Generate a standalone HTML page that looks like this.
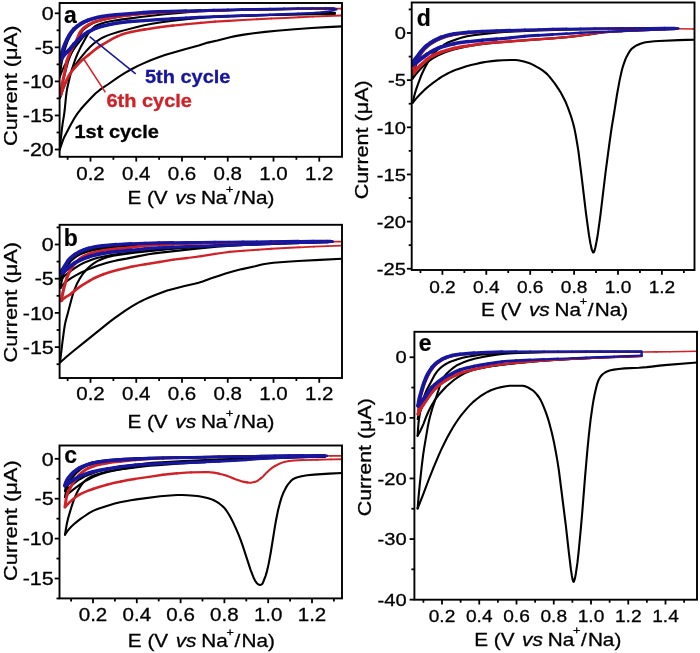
<!DOCTYPE html>
<html><head><meta charset="utf-8"><title>CV cycles</title>
<style>html,body{margin:0;padding:0;background:#fff}svg{display:block}</style></head>
<body><svg width="700" height="653" viewBox="0 0 700 653">
<defs><filter id="soft" x="0" y="0" width="100%" height="100%" filterUnits="userSpaceOnUse"><feGaussianBlur stdDeviation="0.45"/></filter></defs>
<rect width="700" height="653" fill="#fff"/>
<g filter="url(#soft)">
<g id="panel-a">
<clipPath id="ca"><rect x="59.60" y="3.00" width="282.40" height="153.80"/></clipPath>
<g clip-path="url(#ca)">
<path d="M59.7 149.7 L62.0 142.8 L63.0 140.1 L64.2 137.2 L66.0 133.7 L70.7 124.7 L74.5 118.0 L77.2 113.9 L80.7 109.3 L84.7 104.7 L91.5 97.5 L95.7 93.3 L99.5 90.2 L102.2 88.2 L108.5 84.0 L118.7 76.8 L125.0 72.9 L130.9 69.5 L137.4 66.1 L143.4 63.4 L150.7 60.3 L157.9 57.6 L164.9 55.1 L172.7 52.7 L184.9 49.2 L198.7 45.6 L207.9 42.6 L217.4 40.5 L230.2 37.2 L235.2 36.1 L243.9 34.6 L253.7 33.3 L265.2 31.9 L276.7 30.8 L294.7 29.3 L311.7 28.0 L326.7 27.1 L342.0 26.4" fill="none" stroke="#000000" stroke-width="2.10" stroke-linejoin="round" stroke-linecap="round"/>
<path d="M59.7 149.7 L61.0 137.1 L62.0 128.4 L62.7 123.1 L64.2 113.8 L64.7 110.0 L66.0 96.6 L66.5 92.6 L67.2 88.3 L69.0 80.5 L70.2 75.5 L71.7 70.1 L73.0 66.1 L74.7 61.0 L76.2 57.0 L77.5 53.9 L80.7 47.1 L86.0 37.4 L88.2 33.7 L89.7 31.7 L91.2 29.9 L93.0 28.0 L94.2 26.9 L95.0 26.3 L96.5 25.5 L98.2 24.7 L100.7 23.8 L103.2 23.0 L105.7 22.3 L113.2 20.8 L122.5 19.4 L140.7 17.0 L164.4 14.3 L176.4 13.1 L193.7 11.8 L203.4 11.2 L214.9 10.7 L231.9 10.1 L248.9 9.7 L298.2 8.9 L335.0 8.7" fill="none" stroke="#000000" stroke-width="2.10" stroke-linejoin="round" stroke-linecap="round"/>
<path d="M60.0 98.0 L62.8 90.2 L65.2 84.0 L68.2 77.5 L71.5 71.4 L74.8 65.9 L78.0 61.1 L81.8 56.3 L87.0 50.2 L90.0 47.0 L93.8 43.5 L97.0 41.1 L100.8 38.7 L104.0 37.0 L107.2 35.6 L110.5 34.4 L118.8 31.8 L124.8 30.1 L136.0 27.2 L144.2 25.3 L152.0 23.8 L161.5 22.2 L170.8 20.9 L179.5 19.9 L191.2 18.8 L206.2 17.6 L228.0 16.6 L278.5 14.7 L335.0 12.7" fill="none" stroke="#000000" stroke-width="2.00" stroke-linejoin="round" stroke-linecap="round"/>
<path d="M60.0 98.0 L61.8 87.9 L63.2 80.4 L65.8 70.0 L67.8 62.8 L69.2 58.5 L71.2 53.6 L72.8 50.4 L77.8 40.5 L80.5 33.9 L81.8 31.9 L83.2 30.0 L84.8 28.5 L86.8 26.9 L89.2 25.3 L92.0 23.7 L95.0 22.4 L98.0 21.3 L102.8 20.0 L109.8 18.4 L116.2 17.2 L123.5 16.0 L134.0 14.8 L143.5 13.8 L151.2 13.2 L161.0 12.6 L175.5 11.9 L192.5 11.3 L222.8 10.3 L245.5 9.7 L262.0 9.4 L294.2 9.0 L335.0 8.7" fill="none" stroke="#000000" stroke-width="2.00" stroke-linejoin="round" stroke-linecap="round"/>
<path d="M59.8 77.0 L62.0 71.2 L64.0 66.7 L68.3 58.5 L71.0 53.6 L73.3 50.0 L76.0 46.1 L80.3 40.6 L82.8 37.6 L84.8 35.7 L87.8 33.3 L90.8 31.2 L93.5 29.7 L96.3 28.5 L99.3 27.4 L103.0 26.3 L107.5 25.2 L113.0 24.1 L120.3 22.8 L124.3 22.3 L130.3 21.7 L139.3 21.0 L173.3 18.8 L196.8 17.5 L230.6 16.0 L256.6 15.2 L302.1 14.4 L335.0 14.1" fill="none" stroke="#000000" stroke-width="2.00" stroke-linejoin="round" stroke-linecap="round"/>
<path d="M59.8 77.0 L60.8 68.7 L61.5 63.7 L62.8 57.4 L64.0 52.3 L65.8 46.5 L67.5 41.7 L69.3 37.8 L71.3 34.3 L73.3 31.4 L75.0 29.5 L78.3 26.6 L81.5 24.2 L84.5 22.5 L88.3 20.8 L92.3 19.4 L96.5 18.2 L100.5 17.3 L104.8 16.5 L110.0 15.8 L115.0 15.2 L145.3 12.7 L151.6 12.3 L159.3 12.0 L182.1 11.2 L252.8 9.5 L299.3 8.9 L335.0 8.7" fill="none" stroke="#000000" stroke-width="2.00" stroke-linejoin="round" stroke-linecap="round"/>
<path d="M60.9 94.7 L62.6 89.5 L64.2 85.4 L65.4 82.5 L67.2 78.8 L68.9 75.6 L70.9 72.5 L72.7 70.1 L74.9 67.5" fill="none" stroke="#d02228" stroke-width="2.87" stroke-linejoin="round" stroke-linecap="round"/><path d="M74.9 67.5 L78.9 63.2 L81.4 60.8 L83.4 59.0 L88.9 54.7" fill="none" stroke="#d02228" stroke-width="2.81" stroke-linejoin="round" stroke-linecap="round"/><path d="M88.9 54.7 L93.9 50.5 L96.7 48.4 L99.4 46.5 L102.9 44.4" fill="none" stroke="#d02228" stroke-width="2.76" stroke-linejoin="round" stroke-linecap="round"/><path d="M102.9 44.4 L111.9 39.1 L114.2 37.9 L116.9 36.6" fill="none" stroke="#d02228" stroke-width="2.70" stroke-linejoin="round" stroke-linecap="round"/><path d="M116.9 36.6 L120.4 35.1 L123.4 34.0 L126.7 33.1 L130.9 32.0" fill="none" stroke="#d02228" stroke-width="2.64" stroke-linejoin="round" stroke-linecap="round"/><path d="M130.9 32.0 L137.4 30.7 L144.9 29.4" fill="none" stroke="#d02228" stroke-width="2.59" stroke-linejoin="round" stroke-linecap="round"/><path d="M144.9 29.4 L158.9 27.3" fill="none" stroke="#d02228" stroke-width="2.53" stroke-linejoin="round" stroke-linecap="round"/><path d="M158.9 27.3 L172.9 25.6" fill="none" stroke="#d02228" stroke-width="2.48" stroke-linejoin="round" stroke-linecap="round"/><path d="M172.9 25.6 L186.9 24.1" fill="none" stroke="#d02228" stroke-width="2.42" stroke-linejoin="round" stroke-linecap="round"/><path d="M186.9 24.1 L200.9 22.8" fill="none" stroke="#d02228" stroke-width="2.36" stroke-linejoin="round" stroke-linecap="round"/><path d="M200.9 22.8 L214.9 21.7" fill="none" stroke="#d02228" stroke-width="2.31" stroke-linejoin="round" stroke-linecap="round"/><path d="M214.9 21.7 L228.9 20.8" fill="none" stroke="#d02228" stroke-width="2.25" stroke-linejoin="round" stroke-linecap="round"/><path d="M228.9 20.8 L242.9 20.0" fill="none" stroke="#d02228" stroke-width="2.20" stroke-linejoin="round" stroke-linecap="round"/><path d="M242.9 20.0 L257.1 19.3" fill="none" stroke="#d02228" stroke-width="2.14" stroke-linejoin="round" stroke-linecap="round"/><path d="M257.1 19.3 L271.1 18.5" fill="none" stroke="#d02228" stroke-width="2.08" stroke-linejoin="round" stroke-linecap="round"/><path d="M271.1 18.5 L285.1 17.9" fill="none" stroke="#d02228" stroke-width="2.03" stroke-linejoin="round" stroke-linecap="round"/><path d="M285.1 17.9 L299.1 17.2" fill="none" stroke="#d02228" stroke-width="1.97" stroke-linejoin="round" stroke-linecap="round"/><path d="M299.1 17.2 L313.1 16.6" fill="none" stroke="#d02228" stroke-width="1.92" stroke-linejoin="round" stroke-linecap="round"/><path d="M313.1 16.6 L327.1 16.0" fill="none" stroke="#d02228" stroke-width="1.86" stroke-linejoin="round" stroke-linecap="round"/><path d="M327.1 16.0 L341.1 15.5" fill="none" stroke="#d02228" stroke-width="1.80" stroke-linejoin="round" stroke-linecap="round"/><path d="M341.1 15.5 L342.0 15.5" fill="none" stroke="#d02228" stroke-width="1.80" stroke-linejoin="round" stroke-linecap="round"/>
<path d="M60.9 94.7 L61.9 86.8 L62.6 82.0 L64.7 72.4 L66.2 64.4 L66.9 61.1 L68.2 57.3 L70.4 52.0 L72.7 47.4 L74.9 43.4" fill="none" stroke="#d02228" stroke-width="3.15" stroke-linejoin="round" stroke-linecap="round"/><path d="M74.9 43.4 L76.7 40.2 L79.4 33.6 L79.9 32.7 L80.9 31.2 L82.4 29.4 L84.2 27.7 L86.4 26.0 L88.9 24.5" fill="none" stroke="#d02228" stroke-width="3.07" stroke-linejoin="round" stroke-linecap="round"/><path d="M88.9 24.5 L91.9 23.0 L95.2 21.7 L98.7 20.6 L102.9 19.5" fill="none" stroke="#d02228" stroke-width="2.98" stroke-linejoin="round" stroke-linecap="round"/><path d="M102.9 19.5 L110.2 17.9 L116.9 16.7" fill="none" stroke="#d02228" stroke-width="2.90" stroke-linejoin="round" stroke-linecap="round"/><path d="M116.9 16.7 L123.2 15.8 L130.9 15.0" fill="none" stroke="#d02228" stroke-width="2.82" stroke-linejoin="round" stroke-linecap="round"/><path d="M130.9 15.0 L144.9 13.6" fill="none" stroke="#d02228" stroke-width="2.73" stroke-linejoin="round" stroke-linecap="round"/><path d="M144.9 13.6 L158.9 12.7" fill="none" stroke="#d02228" stroke-width="2.65" stroke-linejoin="round" stroke-linecap="round"/><path d="M158.9 12.7 L172.9 12.0" fill="none" stroke="#d02228" stroke-width="2.56" stroke-linejoin="round" stroke-linecap="round"/><path d="M172.9 12.0 L186.9 11.5" fill="none" stroke="#d02228" stroke-width="2.48" stroke-linejoin="round" stroke-linecap="round"/><path d="M186.9 11.5 L200.9 11.0" fill="none" stroke="#d02228" stroke-width="2.40" stroke-linejoin="round" stroke-linecap="round"/><path d="M200.9 11.0 L214.9 10.6" fill="none" stroke="#d02228" stroke-width="2.31" stroke-linejoin="round" stroke-linecap="round"/><path d="M214.9 10.6 L228.9 10.2" fill="none" stroke="#d02228" stroke-width="2.23" stroke-linejoin="round" stroke-linecap="round"/><path d="M228.9 10.2 L242.9 9.8" fill="none" stroke="#d02228" stroke-width="2.14" stroke-linejoin="round" stroke-linecap="round"/><path d="M242.9 9.8 L257.1 9.5" fill="none" stroke="#d02228" stroke-width="2.06" stroke-linejoin="round" stroke-linecap="round"/><path d="M257.1 9.5 L271.1 9.3" fill="none" stroke="#d02228" stroke-width="1.98" stroke-linejoin="round" stroke-linecap="round"/><path d="M271.1 9.3 L285.1 9.1" fill="none" stroke="#d02228" stroke-width="1.89" stroke-linejoin="round" stroke-linecap="round"/><path d="M285.1 9.1 L299.1 8.9" fill="none" stroke="#d02228" stroke-width="1.81" stroke-linejoin="round" stroke-linecap="round"/><path d="M299.1 8.9 L313.1 8.8" fill="none" stroke="#d02228" stroke-width="1.72" stroke-linejoin="round" stroke-linecap="round"/><path d="M313.1 8.8 L327.1 8.7" fill="none" stroke="#d02228" stroke-width="1.70" stroke-linejoin="round" stroke-linecap="round"/><path d="M327.1 8.7 L341.1 8.6" fill="none" stroke="#d02228" stroke-width="1.70" stroke-linejoin="round" stroke-linecap="round"/><path d="M341.1 8.6 L342.0 8.6" fill="none" stroke="#d02228" stroke-width="1.70" stroke-linejoin="round" stroke-linecap="round"/>
<path d="M59.9 62.0 L61.6 58.6 L62.6 57.0 L63.9 55.3 L65.9 53.0 L70.2 48.8 L73.9 44.2" fill="none" stroke="#16149e" stroke-width="3.85" stroke-linejoin="round" stroke-linecap="round"/><path d="M73.9 44.2 L77.7 40.3 L81.4 36.8 L84.4 34.4 L87.9 32.1" fill="none" stroke="#16149e" stroke-width="3.75" stroke-linejoin="round" stroke-linecap="round"/><path d="M87.9 32.1 L91.2 30.3 L94.2 28.8 L97.7 27.5 L101.9 26.3" fill="none" stroke="#16149e" stroke-width="3.66" stroke-linejoin="round" stroke-linecap="round"/><path d="M101.9 26.3 L108.4 24.7 L115.9 23.3" fill="none" stroke="#16149e" stroke-width="3.56" stroke-linejoin="round" stroke-linecap="round"/><path d="M115.9 23.3 L122.9 22.2 L129.9 21.5" fill="none" stroke="#16149e" stroke-width="3.46" stroke-linejoin="round" stroke-linecap="round"/><path d="M129.9 21.5 L143.9 20.6" fill="none" stroke="#16149e" stroke-width="3.36" stroke-linejoin="round" stroke-linecap="round"/><path d="M143.9 20.6 L157.9 19.7" fill="none" stroke="#16149e" stroke-width="3.26" stroke-linejoin="round" stroke-linecap="round"/><path d="M157.9 19.7 L171.9 18.8" fill="none" stroke="#16149e" stroke-width="3.17" stroke-linejoin="round" stroke-linecap="round"/><path d="M171.9 18.8 L185.9 18.0" fill="none" stroke="#16149e" stroke-width="3.07" stroke-linejoin="round" stroke-linecap="round"/><path d="M185.9 18.0 L199.9 17.2" fill="none" stroke="#16149e" stroke-width="2.97" stroke-linejoin="round" stroke-linecap="round"/><path d="M199.9 17.2 L213.9 16.6" fill="none" stroke="#16149e" stroke-width="2.87" stroke-linejoin="round" stroke-linecap="round"/><path d="M213.9 16.6 L227.9 16.1" fill="none" stroke="#16149e" stroke-width="2.77" stroke-linejoin="round" stroke-linecap="round"/><path d="M227.9 16.1 L241.9 15.6" fill="none" stroke="#16149e" stroke-width="2.68" stroke-linejoin="round" stroke-linecap="round"/><path d="M241.9 15.6 L255.9 15.2" fill="none" stroke="#16149e" stroke-width="2.58" stroke-linejoin="round" stroke-linecap="round"/><path d="M255.9 15.2 L270.1 14.7" fill="none" stroke="#16149e" stroke-width="2.48" stroke-linejoin="round" stroke-linecap="round"/><path d="M270.1 14.7 L284.1 14.2" fill="none" stroke="#16149e" stroke-width="2.38" stroke-linejoin="round" stroke-linecap="round"/><path d="M284.1 14.2 L298.1 13.7" fill="none" stroke="#16149e" stroke-width="2.28" stroke-linejoin="round" stroke-linecap="round"/><path d="M298.1 13.7 L312.1 13.0" fill="none" stroke="#16149e" stroke-width="2.18" stroke-linejoin="round" stroke-linecap="round"/><path d="M312.1 13.0 L320.4 12.4 L326.1 11.8" fill="none" stroke="#16149e" stroke-width="2.09" stroke-linejoin="round" stroke-linecap="round"/><path d="M326.1 11.8 L331.6 10.9 L333.6 10.3 L336.4 9.4" fill="none" stroke="#16149e" stroke-width="2.00" stroke-linejoin="round" stroke-linecap="round"/><path d="M59.9 62.0 L60.9 56.4 L61.9 52.6 L63.4 48.0 L65.4 43.0 L67.4 38.6 L69.4 34.9 L71.7 31.7 L73.9 29.0" fill="none" stroke="#16149e" stroke-width="3.85" stroke-linejoin="round" stroke-linecap="round"/><path d="M73.9 29.0 L75.2 27.9 L76.9 26.4 L80.4 24.0 L83.9 22.0 L87.9 20.3" fill="none" stroke="#16149e" stroke-width="3.75" stroke-linejoin="round" stroke-linecap="round"/><path d="M87.9 20.3 L90.9 19.2 L94.2 18.2 L97.9 17.3 L101.9 16.5" fill="none" stroke="#16149e" stroke-width="3.66" stroke-linejoin="round" stroke-linecap="round"/><path d="M101.9 16.5 L108.4 15.5 L115.9 14.7" fill="none" stroke="#16149e" stroke-width="3.56" stroke-linejoin="round" stroke-linecap="round"/><path d="M115.9 14.7 L129.9 13.6" fill="none" stroke="#16149e" stroke-width="3.46" stroke-linejoin="round" stroke-linecap="round"/><path d="M129.9 13.6 L143.9 12.5" fill="none" stroke="#16149e" stroke-width="3.36" stroke-linejoin="round" stroke-linecap="round"/><path d="M143.9 12.5 L150.7 12.0 L157.9 11.7" fill="none" stroke="#16149e" stroke-width="3.26" stroke-linejoin="round" stroke-linecap="round"/><path d="M157.9 11.7 L171.9 11.3" fill="none" stroke="#16149e" stroke-width="3.17" stroke-linejoin="round" stroke-linecap="round"/><path d="M171.9 11.3 L185.9 10.9" fill="none" stroke="#16149e" stroke-width="3.07" stroke-linejoin="round" stroke-linecap="round"/><path d="M185.9 10.9 L199.9 10.6" fill="none" stroke="#16149e" stroke-width="2.97" stroke-linejoin="round" stroke-linecap="round"/><path d="M199.9 10.6 L213.9 10.2" fill="none" stroke="#16149e" stroke-width="2.87" stroke-linejoin="round" stroke-linecap="round"/><path d="M213.9 10.2 L227.9 9.9" fill="none" stroke="#16149e" stroke-width="2.77" stroke-linejoin="round" stroke-linecap="round"/><path d="M227.9 9.9 L241.9 9.6" fill="none" stroke="#16149e" stroke-width="2.68" stroke-linejoin="round" stroke-linecap="round"/><path d="M241.9 9.6 L255.9 9.3" fill="none" stroke="#16149e" stroke-width="2.58" stroke-linejoin="round" stroke-linecap="round"/><path d="M255.9 9.3 L270.1 9.0" fill="none" stroke="#16149e" stroke-width="2.48" stroke-linejoin="round" stroke-linecap="round"/><path d="M270.1 9.0 L284.1 8.7" fill="none" stroke="#16149e" stroke-width="2.38" stroke-linejoin="round" stroke-linecap="round"/><path d="M284.1 8.7 L298.1 8.4" fill="none" stroke="#16149e" stroke-width="2.28" stroke-linejoin="round" stroke-linecap="round"/><path d="M298.1 8.4 L312.1 8.3" fill="none" stroke="#16149e" stroke-width="2.18" stroke-linejoin="round" stroke-linecap="round"/><path d="M312.1 8.3 L326.1 8.2" fill="none" stroke="#16149e" stroke-width="2.09" stroke-linejoin="round" stroke-linecap="round"/><path d="M326.1 8.2 L331.9 8.3 L333.4 8.5 L336.4 9.4" fill="none" stroke="#16149e" stroke-width="2.00" stroke-linejoin="round" stroke-linecap="round"/>
<line x1="89.6" y1="36.6" x2="135.7" y2="73.8" stroke="#16149e" stroke-width="1.5"/>
<line x1="84" y1="59.5" x2="105.4" y2="92.3" stroke="#d02228" stroke-width="1.5"/>
<text transform="translate(145.00 83.00) scale(1.110 1)" font-size="18.00" text-anchor="start" font-weight="bold" fill="#16149e" stroke="#16149e" stroke-width="0.30" font-family="Liberation Sans, Arial, sans-serif">5th cycle</text>
<text transform="translate(106.50 107.00) scale(1.110 1)" font-size="18.00" text-anchor="start" font-weight="bold" fill="#d02228" stroke="#d02228" stroke-width="0.30" font-family="Liberation Sans, Arial, sans-serif">6th cycle</text>
<text transform="translate(74.50 138.00) scale(1.110 1)" font-size="18.00" text-anchor="start" font-weight="bold" fill="#000000" stroke="#000000" stroke-width="0.30" font-family="Liberation Sans, Arial, sans-serif">1st cycle</text>
</g>
<rect x="59.60" y="3.00" width="282.40" height="153.80" fill="none" stroke="#000" stroke-width="1.9"/>
<line x1="90.50" y1="156.80" x2="90.50" y2="161.60" stroke="#000" stroke-width="1.80"/><line x1="136.25" y1="156.80" x2="136.25" y2="161.60" stroke="#000" stroke-width="1.80"/><line x1="182.00" y1="156.80" x2="182.00" y2="161.60" stroke="#000" stroke-width="1.80"/><line x1="227.75" y1="156.80" x2="227.75" y2="161.60" stroke="#000" stroke-width="1.80"/><line x1="273.50" y1="156.80" x2="273.50" y2="161.60" stroke="#000" stroke-width="1.80"/><line x1="319.25" y1="156.80" x2="319.25" y2="161.60" stroke="#000" stroke-width="1.80"/>
<line x1="67.62" y1="156.80" x2="67.62" y2="159.80" stroke="#000" stroke-width="1.80"/><line x1="113.38" y1="156.80" x2="113.38" y2="159.80" stroke="#000" stroke-width="1.80"/><line x1="159.12" y1="156.80" x2="159.12" y2="159.80" stroke="#000" stroke-width="1.80"/><line x1="204.88" y1="156.80" x2="204.88" y2="159.80" stroke="#000" stroke-width="1.80"/><line x1="250.62" y1="156.80" x2="250.62" y2="159.80" stroke="#000" stroke-width="1.80"/><line x1="296.38" y1="156.80" x2="296.38" y2="159.80" stroke="#000" stroke-width="1.80"/>
<line x1="59.60" y1="13.30" x2="54.80" y2="13.30" stroke="#000" stroke-width="1.80"/><line x1="59.60" y1="47.35" x2="54.80" y2="47.35" stroke="#000" stroke-width="1.80"/><line x1="59.60" y1="81.40" x2="54.80" y2="81.40" stroke="#000" stroke-width="1.80"/><line x1="59.60" y1="115.45" x2="54.80" y2="115.45" stroke="#000" stroke-width="1.80"/><line x1="59.60" y1="149.50" x2="54.80" y2="149.50" stroke="#000" stroke-width="1.80"/>
<line x1="59.60" y1="30.32" x2="56.60" y2="30.32" stroke="#000" stroke-width="1.80"/><line x1="59.60" y1="64.38" x2="56.60" y2="64.38" stroke="#000" stroke-width="1.80"/><line x1="59.60" y1="98.42" x2="56.60" y2="98.42" stroke="#000" stroke-width="1.80"/><line x1="59.60" y1="132.47" x2="56.60" y2="132.47" stroke="#000" stroke-width="1.80"/>
<text transform="translate(90.50 179.50) scale(1.105 1)" font-size="18.60" text-anchor="middle" font-weight="normal" fill="#000" stroke="#000" stroke-width="0.30" font-family="Liberation Sans, Arial, sans-serif">0.2</text>
<text transform="translate(136.25 179.50) scale(1.105 1)" font-size="18.60" text-anchor="middle" font-weight="normal" fill="#000" stroke="#000" stroke-width="0.30" font-family="Liberation Sans, Arial, sans-serif">0.4</text>
<text transform="translate(182.00 179.50) scale(1.105 1)" font-size="18.60" text-anchor="middle" font-weight="normal" fill="#000" stroke="#000" stroke-width="0.30" font-family="Liberation Sans, Arial, sans-serif">0.6</text>
<text transform="translate(227.75 179.50) scale(1.105 1)" font-size="18.60" text-anchor="middle" font-weight="normal" fill="#000" stroke="#000" stroke-width="0.30" font-family="Liberation Sans, Arial, sans-serif">0.8</text>
<text transform="translate(273.50 179.50) scale(1.105 1)" font-size="18.60" text-anchor="middle" font-weight="normal" fill="#000" stroke="#000" stroke-width="0.30" font-family="Liberation Sans, Arial, sans-serif">1.0</text>
<text transform="translate(319.25 179.50) scale(1.105 1)" font-size="18.60" text-anchor="middle" font-weight="normal" fill="#000" stroke="#000" stroke-width="0.30" font-family="Liberation Sans, Arial, sans-serif">1.2</text>
<text transform="translate(53.80 20.00) scale(1.155 1)" font-size="18.60" text-anchor="end" font-weight="normal" fill="#000" stroke="#000" stroke-width="0.30" font-family="Liberation Sans, Arial, sans-serif">0</text>
<text transform="translate(53.80 54.05) scale(1.155 1)" font-size="18.60" text-anchor="end" font-weight="normal" fill="#000" stroke="#000" stroke-width="0.30" font-family="Liberation Sans, Arial, sans-serif">-5</text>
<text transform="translate(53.80 88.10) scale(1.155 1)" font-size="18.60" text-anchor="end" font-weight="normal" fill="#000" stroke="#000" stroke-width="0.30" font-family="Liberation Sans, Arial, sans-serif">-10</text>
<text transform="translate(53.80 122.15) scale(1.155 1)" font-size="18.60" text-anchor="end" font-weight="normal" fill="#000" stroke="#000" stroke-width="0.30" font-family="Liberation Sans, Arial, sans-serif">-15</text>
<text transform="translate(53.80 156.20) scale(1.155 1)" font-size="18.60" text-anchor="end" font-weight="normal" fill="#000" stroke="#000" stroke-width="0.30" font-family="Liberation Sans, Arial, sans-serif">-20</text>
<text transform="translate(0 204.20) scale(1.140 1)" font-size="18.20" text-anchor="start" stroke="#000" stroke-width="0.3" font-family="Liberation Sans, Arial, sans-serif"><tspan x="111.75">E (V</tspan><tspan x="153.77" font-style="italic">vs</tspan><tspan x="176.23">Na</tspan><tspan x="198.33" dy="-11.3" font-size="11">+</tspan><tspan x="205.35" dy="11.3">/</tspan><tspan x="211.49">Na)</tspan></text>
<text transform="translate(16.50 85.75) rotate(-90) scale(1.150 1)" font-size="19.00" text-anchor="middle" stroke="#000" stroke-width="0.3" font-family="Liberation Sans, Arial, sans-serif">Current (μA)</text>
<text transform="translate(63.90 22.90) scale(1.000 1)" font-size="23.00" text-anchor="start" font-weight="bold" fill="#000" stroke="#000" stroke-width="0.20" font-family="Liberation Sans, Arial, sans-serif">a</text>
</g>
<g id="panel-b">
<clipPath id="cb"><rect x="59.60" y="224.80" width="282.40" height="153.20"/></clipPath>
<g clip-path="url(#cb)">
<path d="M60.1 362.5 L67.1 356.2 L73.1 351.2 L84.8 341.9 L109.3 322.1 L114.6 318.2 L120.6 313.9 L125.3 310.7 L132.3 306.2 L136.6 303.6 L140.1 301.7 L144.3 299.6 L149.1 297.5 L154.6 295.3 L161.1 292.8 L167.3 290.6 L173.1 288.9 L184.6 286.1 L194.6 283.8 L198.6 282.7 L202.6 281.4 L211.3 278.3 L219.1 275.7 L225.6 273.6 L234.3 271.1 L242.1 269.1 L255.1 266.3 L260.9 264.7 L263.1 264.2 L267.9 263.5 L273.6 262.8 L286.9 261.7 L298.1 261.0 L320.1 259.9 L342.0 258.7" fill="none" stroke="#000000" stroke-width="2.10" stroke-linejoin="round" stroke-linecap="round"/>
<path d="M60.1 362.5 L61.4 350.6 L62.4 342.3 L63.9 331.1 L64.8 325.1 L65.8 320.5 L67.8 313.2 L71.6 298.7 L73.1 293.5 L74.6 289.3 L76.8 284.1 L79.3 279.4 L82.1 275.0 L83.3 273.3 L85.1 271.2 L86.8 269.3 L88.6 267.5 L90.3 266.0 L92.1 264.6 L94.1 263.2 L96.1 261.9 L97.8 260.9 L99.8 260.0 L104.1 258.3 L109.3 256.6 L113.1 255.8 L118.3 254.9 L134.3 252.8 L150.8 250.9 L166.6 249.2 L181.6 248.0 L200.1 246.5 L217.1 245.4 L232.8 244.4 L247.8 243.7 L267.1 242.9 L287.4 242.3 L310.4 241.8 L332.0 241.4" fill="none" stroke="#000000" stroke-width="2.10" stroke-linejoin="round" stroke-linecap="round"/>
<path d="M60.5 288.0 L62.8 284.9 L64.8 282.8 L67.5 280.6 L71.5 277.9 L76.2 275.1 L81.2 272.5 L87.0 269.9 L93.0 267.5 L97.5 265.8 L103.8 263.7 L108.0 262.4 L112.0 261.4 L116.5 260.4 L126.5 258.6 L138.8 256.1 L148.5 254.3 L154.2 253.4 L160.5 252.6 L194.2 248.9 L216.8 246.8 L234.8 245.5 L247.0 244.7 L260.8 244.2 L332.0 242.0" fill="none" stroke="#000000" stroke-width="2.10" stroke-linejoin="round" stroke-linecap="round"/>
<path d="M60.5 288.0 L61.2 283.6 L62.0 280.0 L63.2 275.5 L64.5 272.0 L66.0 268.6 L67.5 265.8 L69.5 262.8 L71.2 260.7 L73.5 258.7 L76.2 256.6 L78.8 255.1 L81.5 253.8 L85.0 252.5 L88.8 251.3 L93.2 250.2 L97.8 249.4 L104.0 248.4 L111.0 247.6 L117.8 246.9 L124.5 246.3 L135.2 245.7 L147.0 245.1 L174.8 244.0 L212.2 242.9 L240.0 242.3 L288.0 241.9 L332.0 241.8" fill="none" stroke="#000000" stroke-width="2.10" stroke-linejoin="round" stroke-linecap="round"/>
<path d="M60.5 280.0 L63.0 277.4 L65.2 275.3 L67.8 273.2 L71.5 270.4 L74.8 268.1 L77.5 266.3 L80.8 264.4 L83.5 263.0 L87.2 261.4 L91.0 260.0 L94.5 258.8 L97.8 257.8 L101.8 256.9 L106.2 256.0 L112.5 254.9 L118.0 254.1 L135.2 252.0 L153.0 250.2 L176.0 248.3 L200.2 246.8 L225.8 245.4 L251.2 244.4 L332.0 241.8" fill="none" stroke="#000000" stroke-width="2.10" stroke-linejoin="round" stroke-linecap="round"/>
<path d="M60.5 280.0 L61.5 275.7 L62.2 273.3 L63.5 270.0 L64.8 267.5 L66.5 264.5 L68.5 261.7 L70.2 259.7 L72.5 257.7 L74.8 256.1 L77.5 254.4 L80.2 252.9 L83.0 251.7 L87.5 250.2 L91.8 249.0 L95.8 248.2 L100.0 247.5 L105.8 246.7 L111.8 246.1 L118.0 245.5 L124.5 245.1 L144.5 244.2 L169.0 243.4 L208.8 242.6 L238.5 242.1 L287.0 241.8 L332.0 241.7" fill="none" stroke="#000000" stroke-width="2.10" stroke-linejoin="round" stroke-linecap="round"/>
<path d="M61.4 300.7 L63.1 299.0 L64.7 297.8 L65.9 296.9 L68.7 295.4 L69.9 294.6 L75.4 290.1" fill="none" stroke="#d02228" stroke-width="2.77" stroke-linejoin="round" stroke-linecap="round"/><path d="M75.4 290.1 L78.7 287.6 L81.9 285.4 L89.4 280.8" fill="none" stroke="#d02228" stroke-width="2.71" stroke-linejoin="round" stroke-linecap="round"/><path d="M89.4 280.8 L92.9 278.8 L96.2 277.2 L99.7 275.7 L103.4 274.2" fill="none" stroke="#d02228" stroke-width="2.65" stroke-linejoin="round" stroke-linecap="round"/><path d="M103.4 274.2 L110.2 271.9 L117.4 270.0" fill="none" stroke="#d02228" stroke-width="2.60" stroke-linejoin="round" stroke-linecap="round"/><path d="M117.4 270.0 L131.4 266.8" fill="none" stroke="#d02228" stroke-width="2.54" stroke-linejoin="round" stroke-linecap="round"/><path d="M131.4 266.8 L138.7 265.4 L145.4 264.2" fill="none" stroke="#d02228" stroke-width="2.49" stroke-linejoin="round" stroke-linecap="round"/><path d="M145.4 264.2 L159.4 262.0" fill="none" stroke="#d02228" stroke-width="2.43" stroke-linejoin="round" stroke-linecap="round"/><path d="M159.4 262.0 L173.4 259.7" fill="none" stroke="#d02228" stroke-width="2.37" stroke-linejoin="round" stroke-linecap="round"/><path d="M173.4 259.7 L187.4 258.0" fill="none" stroke="#d02228" stroke-width="2.32" stroke-linejoin="round" stroke-linecap="round"/><path d="M187.4 258.0 L201.4 256.2" fill="none" stroke="#d02228" stroke-width="2.26" stroke-linejoin="round" stroke-linecap="round"/><path d="M201.4 256.2 L215.4 253.9" fill="none" stroke="#d02228" stroke-width="2.21" stroke-linejoin="round" stroke-linecap="round"/><path d="M215.4 253.9 L223.2 252.7 L229.4 251.9" fill="none" stroke="#d02228" stroke-width="2.15" stroke-linejoin="round" stroke-linecap="round"/><path d="M229.4 251.9 L243.4 250.7" fill="none" stroke="#d02228" stroke-width="2.09" stroke-linejoin="round" stroke-linecap="round"/><path d="M243.4 250.7 L257.6 249.7" fill="none" stroke="#d02228" stroke-width="2.04" stroke-linejoin="round" stroke-linecap="round"/><path d="M257.6 249.7 L271.6 248.8" fill="none" stroke="#d02228" stroke-width="1.98" stroke-linejoin="round" stroke-linecap="round"/><path d="M271.6 248.8 L285.6 248.0" fill="none" stroke="#d02228" stroke-width="1.93" stroke-linejoin="round" stroke-linecap="round"/><path d="M285.6 248.0 L299.6 247.3" fill="none" stroke="#d02228" stroke-width="1.87" stroke-linejoin="round" stroke-linecap="round"/><path d="M299.6 247.3 L313.6 246.7" fill="none" stroke="#d02228" stroke-width="1.81" stroke-linejoin="round" stroke-linecap="round"/><path d="M313.6 246.7 L327.6 246.1" fill="none" stroke="#d02228" stroke-width="1.76" stroke-linejoin="round" stroke-linecap="round"/><path d="M327.6 246.1 L341.6 245.6" fill="none" stroke="#d02228" stroke-width="1.70" stroke-linejoin="round" stroke-linecap="round"/><path d="M341.6 245.6 L342.0 245.6" fill="none" stroke="#d02228" stroke-width="1.70" stroke-linejoin="round" stroke-linecap="round"/>
<path d="M61.4 300.7 L62.6 293.8 L63.9 288.0 L65.7 281.6 L67.4 276.5 L69.2 272.3 L71.2 268.6 L73.2 265.6 L75.4 262.9" fill="none" stroke="#d02228" stroke-width="3.15" stroke-linejoin="round" stroke-linecap="round"/><path d="M75.4 262.9 L76.9 261.4 L78.7 259.8 L80.4 258.4 L82.2 257.2 L83.4 256.5 L85.2 255.7 L89.4 254.0" fill="none" stroke="#d02228" stroke-width="3.07" stroke-linejoin="round" stroke-linecap="round"/><path d="M89.4 254.0 L94.2 252.4 L96.7 251.7 L99.7 251.1 L103.4 250.4" fill="none" stroke="#d02228" stroke-width="2.98" stroke-linejoin="round" stroke-linecap="round"/><path d="M103.4 250.4 L110.4 249.5 L117.4 248.7" fill="none" stroke="#d02228" stroke-width="2.90" stroke-linejoin="round" stroke-linecap="round"/><path d="M117.4 248.7 L125.7 248.0 L131.4 247.3" fill="none" stroke="#d02228" stroke-width="2.81" stroke-linejoin="round" stroke-linecap="round"/><path d="M131.4 247.3 L138.7 246.4 L145.4 245.8" fill="none" stroke="#d02228" stroke-width="2.73" stroke-linejoin="round" stroke-linecap="round"/><path d="M145.4 245.8 L159.4 244.8" fill="none" stroke="#d02228" stroke-width="2.65" stroke-linejoin="round" stroke-linecap="round"/><path d="M159.4 244.8 L173.4 244.1" fill="none" stroke="#d02228" stroke-width="2.56" stroke-linejoin="round" stroke-linecap="round"/><path d="M173.4 244.1 L187.4 243.6" fill="none" stroke="#d02228" stroke-width="2.48" stroke-linejoin="round" stroke-linecap="round"/><path d="M187.4 243.6 L201.4 243.3" fill="none" stroke="#d02228" stroke-width="2.39" stroke-linejoin="round" stroke-linecap="round"/><path d="M201.4 243.3 L215.4 243.0" fill="none" stroke="#d02228" stroke-width="2.31" stroke-linejoin="round" stroke-linecap="round"/><path d="M215.4 243.0 L229.4 242.7" fill="none" stroke="#d02228" stroke-width="2.23" stroke-linejoin="round" stroke-linecap="round"/><path d="M229.4 242.7 L243.4 242.5" fill="none" stroke="#d02228" stroke-width="2.14" stroke-linejoin="round" stroke-linecap="round"/><path d="M243.4 242.5 L257.6 242.3" fill="none" stroke="#d02228" stroke-width="2.06" stroke-linejoin="round" stroke-linecap="round"/><path d="M257.6 242.3 L271.6 242.1" fill="none" stroke="#d02228" stroke-width="1.97" stroke-linejoin="round" stroke-linecap="round"/><path d="M271.6 242.1 L285.6 241.9" fill="none" stroke="#d02228" stroke-width="1.89" stroke-linejoin="round" stroke-linecap="round"/><path d="M285.6 241.9 L299.6 241.8" fill="none" stroke="#d02228" stroke-width="1.80" stroke-linejoin="round" stroke-linecap="round"/><path d="M299.6 241.8 L313.6 241.7" fill="none" stroke="#d02228" stroke-width="1.72" stroke-linejoin="round" stroke-linecap="round"/><path d="M313.6 241.7 L327.6 241.6" fill="none" stroke="#d02228" stroke-width="1.70" stroke-linejoin="round" stroke-linecap="round"/><path d="M327.6 241.6 L341.6 241.6" fill="none" stroke="#d02228" stroke-width="1.70" stroke-linejoin="round" stroke-linecap="round"/><path d="M341.6 241.6 L342.0 241.6" fill="none" stroke="#d02228" stroke-width="1.70" stroke-linejoin="round" stroke-linecap="round"/>
<path d="M60.7 273.6 L62.5 272.7 L64.2 271.6 L69.2 267.1 L72.2 264.8 L74.7 263.0" fill="none" stroke="#16149e" stroke-width="3.85" stroke-linejoin="round" stroke-linecap="round"/><path d="M74.7 263.0 L77.7 261.3 L81.0 259.7 L84.0 258.5 L88.7 256.8" fill="none" stroke="#16149e" stroke-width="3.75" stroke-linejoin="round" stroke-linecap="round"/><path d="M88.7 256.8 L92.2 255.7 L95.5 254.9 L102.7 253.4" fill="none" stroke="#16149e" stroke-width="3.65" stroke-linejoin="round" stroke-linecap="round"/><path d="M102.7 253.4 L109.7 252.3 L116.7 251.5" fill="none" stroke="#16149e" stroke-width="3.55" stroke-linejoin="round" stroke-linecap="round"/><path d="M116.7 251.5 L130.9 250.3" fill="none" stroke="#16149e" stroke-width="3.45" stroke-linejoin="round" stroke-linecap="round"/><path d="M130.9 250.3 L144.9 248.9" fill="none" stroke="#16149e" stroke-width="3.35" stroke-linejoin="round" stroke-linecap="round"/><path d="M144.9 248.9 L152.4 248.2 L158.9 247.8" fill="none" stroke="#16149e" stroke-width="3.26" stroke-linejoin="round" stroke-linecap="round"/><path d="M158.9 247.8 L172.9 247.1" fill="none" stroke="#16149e" stroke-width="3.16" stroke-linejoin="round" stroke-linecap="round"/><path d="M172.9 247.1 L186.9 246.6" fill="none" stroke="#16149e" stroke-width="3.06" stroke-linejoin="round" stroke-linecap="round"/><path d="M186.9 246.6 L200.9 246.2" fill="none" stroke="#16149e" stroke-width="2.96" stroke-linejoin="round" stroke-linecap="round"/><path d="M200.9 246.2 L214.9 245.7" fill="none" stroke="#16149e" stroke-width="2.86" stroke-linejoin="round" stroke-linecap="round"/><path d="M214.9 245.7 L228.9 245.3" fill="none" stroke="#16149e" stroke-width="2.77" stroke-linejoin="round" stroke-linecap="round"/><path d="M228.9 245.3 L242.9 244.8" fill="none" stroke="#16149e" stroke-width="2.67" stroke-linejoin="round" stroke-linecap="round"/><path d="M242.9 244.8 L256.9 244.4" fill="none" stroke="#16149e" stroke-width="2.57" stroke-linejoin="round" stroke-linecap="round"/><path d="M256.9 244.4 L270.9 243.9" fill="none" stroke="#16149e" stroke-width="2.47" stroke-linejoin="round" stroke-linecap="round"/><path d="M270.9 243.9 L284.9 243.4" fill="none" stroke="#16149e" stroke-width="2.37" stroke-linejoin="round" stroke-linecap="round"/><path d="M284.9 243.4 L298.9 243.0" fill="none" stroke="#16149e" stroke-width="2.28" stroke-linejoin="round" stroke-linecap="round"/><path d="M298.9 243.0 L312.9 242.8" fill="none" stroke="#16149e" stroke-width="2.18" stroke-linejoin="round" stroke-linecap="round"/><path d="M312.9 242.8 L326.9 242.4" fill="none" stroke="#16149e" stroke-width="2.08" stroke-linejoin="round" stroke-linecap="round"/><path d="M326.9 242.4 L330.4 242.1 L333.0 241.6" fill="none" stroke="#16149e" stroke-width="2.01" stroke-linejoin="round" stroke-linecap="round"/><path d="M60.7 273.6 L61.5 271.1 L62.0 270.1 L63.7 267.8 L67.0 262.5 L68.2 260.6 L69.2 259.4 L71.0 257.7 L72.7 256.2 L74.7 254.7" fill="none" stroke="#16149e" stroke-width="3.85" stroke-linejoin="round" stroke-linecap="round"/><path d="M74.7 254.7 L78.2 252.5 L81.5 250.9 L84.2 249.8 L88.7 248.4" fill="none" stroke="#16149e" stroke-width="3.75" stroke-linejoin="round" stroke-linecap="round"/><path d="M88.7 248.4 L92.2 247.5 L95.5 246.8 L98.7 246.3 L102.7 245.8" fill="none" stroke="#16149e" stroke-width="3.65" stroke-linejoin="round" stroke-linecap="round"/><path d="M102.7 245.8 L116.7 244.6" fill="none" stroke="#16149e" stroke-width="3.55" stroke-linejoin="round" stroke-linecap="round"/><path d="M116.7 244.6 L123.7 244.1 L130.9 243.8" fill="none" stroke="#16149e" stroke-width="3.45" stroke-linejoin="round" stroke-linecap="round"/><path d="M130.9 243.8 L144.9 243.3" fill="none" stroke="#16149e" stroke-width="3.35" stroke-linejoin="round" stroke-linecap="round"/><path d="M144.9 243.3 L158.9 242.9" fill="none" stroke="#16149e" stroke-width="3.26" stroke-linejoin="round" stroke-linecap="round"/><path d="M158.9 242.9 L172.9 242.7" fill="none" stroke="#16149e" stroke-width="3.16" stroke-linejoin="round" stroke-linecap="round"/><path d="M172.9 242.7 L186.9 242.6" fill="none" stroke="#16149e" stroke-width="3.06" stroke-linejoin="round" stroke-linecap="round"/><path d="M186.9 242.6 L200.9 242.4" fill="none" stroke="#16149e" stroke-width="2.96" stroke-linejoin="round" stroke-linecap="round"/><path d="M200.9 242.4 L214.9 242.2" fill="none" stroke="#16149e" stroke-width="2.86" stroke-linejoin="round" stroke-linecap="round"/><path d="M214.9 242.2 L228.9 242.1" fill="none" stroke="#16149e" stroke-width="2.77" stroke-linejoin="round" stroke-linecap="round"/><path d="M228.9 242.1 L242.9 241.9" fill="none" stroke="#16149e" stroke-width="2.67" stroke-linejoin="round" stroke-linecap="round"/><path d="M242.9 241.9 L256.9 241.7" fill="none" stroke="#16149e" stroke-width="2.57" stroke-linejoin="round" stroke-linecap="round"/><path d="M256.9 241.7 L270.9 241.4" fill="none" stroke="#16149e" stroke-width="2.47" stroke-linejoin="round" stroke-linecap="round"/><path d="M270.9 241.4 L284.9 241.2" fill="none" stroke="#16149e" stroke-width="2.37" stroke-linejoin="round" stroke-linecap="round"/><path d="M284.9 241.2 L298.9 241.0" fill="none" stroke="#16149e" stroke-width="2.28" stroke-linejoin="round" stroke-linecap="round"/><path d="M298.9 241.0 L312.9 240.9" fill="none" stroke="#16149e" stroke-width="2.18" stroke-linejoin="round" stroke-linecap="round"/><path d="M312.9 240.9 L326.9 240.8" fill="none" stroke="#16149e" stroke-width="2.08" stroke-linejoin="round" stroke-linecap="round"/><path d="M326.9 240.8 L330.4 240.8 L333.0 241.6" fill="none" stroke="#16149e" stroke-width="2.01" stroke-linejoin="round" stroke-linecap="round"/>
</g>
<rect x="59.60" y="224.80" width="282.40" height="153.20" fill="none" stroke="#000" stroke-width="1.9"/>
<line x1="90.50" y1="378.00" x2="90.50" y2="382.80" stroke="#000" stroke-width="1.80"/><line x1="136.25" y1="378.00" x2="136.25" y2="382.80" stroke="#000" stroke-width="1.80"/><line x1="182.00" y1="378.00" x2="182.00" y2="382.80" stroke="#000" stroke-width="1.80"/><line x1="227.75" y1="378.00" x2="227.75" y2="382.80" stroke="#000" stroke-width="1.80"/><line x1="273.50" y1="378.00" x2="273.50" y2="382.80" stroke="#000" stroke-width="1.80"/><line x1="319.25" y1="378.00" x2="319.25" y2="382.80" stroke="#000" stroke-width="1.80"/>
<line x1="67.62" y1="378.00" x2="67.62" y2="381.00" stroke="#000" stroke-width="1.80"/><line x1="113.38" y1="378.00" x2="113.38" y2="381.00" stroke="#000" stroke-width="1.80"/><line x1="159.12" y1="378.00" x2="159.12" y2="381.00" stroke="#000" stroke-width="1.80"/><line x1="204.88" y1="378.00" x2="204.88" y2="381.00" stroke="#000" stroke-width="1.80"/><line x1="250.62" y1="378.00" x2="250.62" y2="381.00" stroke="#000" stroke-width="1.80"/><line x1="296.38" y1="378.00" x2="296.38" y2="381.00" stroke="#000" stroke-width="1.80"/>
<line x1="59.60" y1="244.50" x2="54.80" y2="244.50" stroke="#000" stroke-width="1.80"/><line x1="59.60" y1="278.70" x2="54.80" y2="278.70" stroke="#000" stroke-width="1.80"/><line x1="59.60" y1="312.90" x2="54.80" y2="312.90" stroke="#000" stroke-width="1.80"/><line x1="59.60" y1="347.10" x2="54.80" y2="347.10" stroke="#000" stroke-width="1.80"/>
<line x1="59.60" y1="227.40" x2="56.60" y2="227.40" stroke="#000" stroke-width="1.80"/><line x1="59.60" y1="261.60" x2="56.60" y2="261.60" stroke="#000" stroke-width="1.80"/><line x1="59.60" y1="295.80" x2="56.60" y2="295.80" stroke="#000" stroke-width="1.80"/><line x1="59.60" y1="330.00" x2="56.60" y2="330.00" stroke="#000" stroke-width="1.80"/><line x1="59.60" y1="364.20" x2="56.60" y2="364.20" stroke="#000" stroke-width="1.80"/>
<text transform="translate(90.50 400.40) scale(1.105 1)" font-size="18.60" text-anchor="middle" font-weight="normal" fill="#000" stroke="#000" stroke-width="0.30" font-family="Liberation Sans, Arial, sans-serif">0.2</text>
<text transform="translate(136.25 400.40) scale(1.105 1)" font-size="18.60" text-anchor="middle" font-weight="normal" fill="#000" stroke="#000" stroke-width="0.30" font-family="Liberation Sans, Arial, sans-serif">0.4</text>
<text transform="translate(182.00 400.40) scale(1.105 1)" font-size="18.60" text-anchor="middle" font-weight="normal" fill="#000" stroke="#000" stroke-width="0.30" font-family="Liberation Sans, Arial, sans-serif">0.6</text>
<text transform="translate(227.75 400.40) scale(1.105 1)" font-size="18.60" text-anchor="middle" font-weight="normal" fill="#000" stroke="#000" stroke-width="0.30" font-family="Liberation Sans, Arial, sans-serif">0.8</text>
<text transform="translate(273.50 400.40) scale(1.105 1)" font-size="18.60" text-anchor="middle" font-weight="normal" fill="#000" stroke="#000" stroke-width="0.30" font-family="Liberation Sans, Arial, sans-serif">1.0</text>
<text transform="translate(319.25 400.40) scale(1.105 1)" font-size="18.60" text-anchor="middle" font-weight="normal" fill="#000" stroke="#000" stroke-width="0.30" font-family="Liberation Sans, Arial, sans-serif">1.2</text>
<text transform="translate(53.80 251.20) scale(1.155 1)" font-size="18.60" text-anchor="end" font-weight="normal" fill="#000" stroke="#000" stroke-width="0.30" font-family="Liberation Sans, Arial, sans-serif">0</text>
<text transform="translate(53.80 285.40) scale(1.155 1)" font-size="18.60" text-anchor="end" font-weight="normal" fill="#000" stroke="#000" stroke-width="0.30" font-family="Liberation Sans, Arial, sans-serif">-5</text>
<text transform="translate(53.80 319.60) scale(1.155 1)" font-size="18.60" text-anchor="end" font-weight="normal" fill="#000" stroke="#000" stroke-width="0.30" font-family="Liberation Sans, Arial, sans-serif">-10</text>
<text transform="translate(53.80 353.80) scale(1.155 1)" font-size="18.60" text-anchor="end" font-weight="normal" fill="#000" stroke="#000" stroke-width="0.30" font-family="Liberation Sans, Arial, sans-serif">-15</text>
<text transform="translate(0 428.00) scale(1.140 1)" font-size="18.20" text-anchor="start" stroke="#000" stroke-width="0.3" font-family="Liberation Sans, Arial, sans-serif"><tspan x="111.75">E (V</tspan><tspan x="153.77" font-style="italic">vs</tspan><tspan x="176.23">Na</tspan><tspan x="198.33" dy="-11.3" font-size="11">+</tspan><tspan x="205.35" dy="11.3">/</tspan><tspan x="211.49">Na)</tspan></text>
<text transform="translate(16.50 302.20) rotate(-90) scale(1.150 1)" font-size="19.00" text-anchor="middle" stroke="#000" stroke-width="0.3" font-family="Liberation Sans, Arial, sans-serif">Current (μA)</text>
<text transform="translate(63.70 246.20) scale(1.000 1)" font-size="23.00" text-anchor="start" font-weight="bold" fill="#000" stroke="#000" stroke-width="0.20" font-family="Liberation Sans, Arial, sans-serif">b</text>
</g>
<g id="panel-c">
<clipPath id="cc"><rect x="59.50" y="445.50" width="282.50" height="152.90"/></clipPath>
<g clip-path="url(#cc)">
<path d="M65.0 534.6 L67.2 531.4 L69.2 528.9 L71.2 526.7 L73.8 524.3 L77.0 521.6 L80.5 518.9 L84.0 516.5 L89.0 513.2 L91.2 511.9 L93.0 510.9 L97.5 509.0 L106.8 505.9 L114.8 503.6 L120.0 502.3 L125.5 501.2 L130.8 500.2 L136.5 499.4 L160.2 496.3 L173.5 495.2 L177.5 495.0 L182.0 495.0 L187.5 495.3 L194.0 495.7 L197.2 496.0 L200.5 496.5 L207.5 498.0 L210.5 498.9 L213.8 500.3 L216.8 501.9 L219.5 503.7 L222.0 505.7 L224.5 508.1 L226.0 510.0 L228.0 513.0 L230.8 517.7 L233.0 522.1 L236.0 528.6 L238.8 535.1 L240.8 540.3 L242.5 545.2 L250.5 569.6 L252.8 575.6 L254.0 578.6 L254.8 580.1 L255.5 581.3 L256.5 582.7 L257.2 583.5 L258.0 584.1 L259.2 584.8 L260.0 585.0 L260.5 584.9 L261.2 584.6 L262.0 584.1 L262.5 583.5 L263.0 582.5 L265.5 576.1 L266.5 572.9 L267.5 569.1 L268.8 563.1 L270.8 552.2 L275.0 526.1 L276.0 520.5 L278.0 510.5 L279.8 503.4 L281.5 497.6 L283.5 492.4 L285.8 487.9 L287.0 485.9 L288.0 484.4 L290.8 481.1 L292.0 479.9 L293.0 479.2 L294.8 478.3 L296.8 477.5 L298.5 477.0 L301.5 476.3 L307.2 475.3 L314.0 474.6 L329.2 473.6 L342.0 473.0" fill="none" stroke="#000000" stroke-width="2.10" stroke-linejoin="round" stroke-linecap="round"/>
<path d="M65.0 534.6 L66.0 528.4 L67.0 523.0 L68.0 518.7 L69.0 515.1 L72.0 505.3 L74.0 499.4 L76.0 494.6 L78.0 490.5 L79.5 487.9 L82.0 484.2 L83.8 482.0 L85.5 480.3 L88.0 478.4 L90.8 476.8 L93.8 475.4 L97.2 474.2 L102.5 472.8 L108.2 471.5 L114.5 470.3 L121.2 469.2 L129.5 468.1 L140.8 466.7 L149.8 465.8 L158.0 465.1 L177.0 463.8 L243.5 459.7 L261.5 458.7 L294.5 457.2 L310.2 456.7 L325.0 456.4" fill="none" stroke="#000000" stroke-width="2.10" stroke-linejoin="round" stroke-linecap="round"/>
<path d="M65.0 497.0 L68.2 493.8 L71.0 491.4 L74.5 488.6 L78.5 485.6 L82.0 483.2 L85.2 481.2 L89.2 479.0 L93.0 477.1 L96.8 475.5 L100.0 474.3 L104.0 473.1 L108.5 471.8 L113.2 470.7 L118.2 469.6 L123.8 468.6 L129.8 467.6 L145.5 465.4 L152.0 464.6 L158.8 463.9 L180.8 462.1 L205.5 460.6 L238.0 459.0 L272.5 457.7 L296.8 457.1 L325.0 456.7" fill="none" stroke="#000000" stroke-width="2.10" stroke-linejoin="round" stroke-linecap="round"/>
<path d="M65.0 497.0 L66.2 489.9 L67.0 487.5 L68.2 484.6 L70.8 480.2 L72.8 477.2 L74.8 474.7 L77.2 472.1 L79.5 470.1 L81.5 468.7 L84.5 466.9 L87.2 465.6 L90.5 464.4 L94.2 463.3 L98.0 462.4 L101.8 461.7 L106.5 461.0 L111.5 460.4 L123.5 459.5 L140.8 458.5 L158.5 457.9 L254.0 456.1 L287.5 455.9 L325.0 455.8" fill="none" stroke="#000000" stroke-width="2.10" stroke-linejoin="round" stroke-linecap="round"/>
<path d="M65.0 491.0 L72.8 484.5 L77.2 481.0 L80.2 479.0 L82.8 477.5 L85.0 476.3 L87.5 475.2 L90.8 473.9 L97.2 471.6 L100.0 470.8 L103.0 470.0 L107.8 468.9 L113.0 467.9 L118.5 466.9 L124.5 466.1 L141.8 464.0 L152.0 462.9 L166.0 462.0 L183.2 461.1 L230.8 459.0 L255.5 458.0 L293.2 457.1 L325.0 456.6" fill="none" stroke="#000000" stroke-width="2.10" stroke-linejoin="round" stroke-linecap="round"/>
<path d="M65.0 491.0 L66.2 484.8 L67.0 482.7 L68.2 480.1 L70.8 476.4 L72.8 473.8 L74.5 471.9 L77.0 469.7 L79.0 468.2 L81.0 467.0 L84.8 465.2 L88.5 463.7 L91.2 462.8 L93.8 462.2 L98.0 461.4 L102.5 460.7 L111.5 459.7 L123.8 458.9 L137.0 458.3 L153.5 457.8 L208.8 457.0 L256.0 456.1 L290.0 455.9 L325.0 455.8" fill="none" stroke="#000000" stroke-width="2.10" stroke-linejoin="round" stroke-linecap="round"/>
<path d="M65.0 507.0 L68.8 503.1 L73.0 499.3 L76.2 496.7 L79.0 494.9" fill="none" stroke="#d02228" stroke-width="2.66" stroke-linejoin="round" stroke-linecap="round"/><path d="M79.0 494.9 L81.8 493.4 L84.8 492.1 L88.8 490.4 L93.0 488.9" fill="none" stroke="#d02228" stroke-width="2.62" stroke-linejoin="round" stroke-linecap="round"/><path d="M93.0 488.9 L99.8 486.7 L107.0 484.7" fill="none" stroke="#d02228" stroke-width="2.58" stroke-linejoin="round" stroke-linecap="round"/><path d="M107.0 484.7 L113.5 483.1 L121.0 481.5" fill="none" stroke="#d02228" stroke-width="2.54" stroke-linejoin="round" stroke-linecap="round"/><path d="M121.0 481.5 L128.2 480.1 L135.0 478.9" fill="none" stroke="#d02228" stroke-width="2.50" stroke-linejoin="round" stroke-linecap="round"/><path d="M135.0 478.9 L149.0 476.9" fill="none" stroke="#d02228" stroke-width="2.45" stroke-linejoin="round" stroke-linecap="round"/><path d="M149.0 476.9 L163.0 474.8" fill="none" stroke="#d02228" stroke-width="2.41" stroke-linejoin="round" stroke-linecap="round"/><path d="M163.0 474.8 L170.0 474.0 L177.0 473.3" fill="none" stroke="#d02228" stroke-width="2.37" stroke-linejoin="round" stroke-linecap="round"/><path d="M177.0 473.3 L185.8 472.7 L191.0 472.4" fill="none" stroke="#d02228" stroke-width="2.33" stroke-linejoin="round" stroke-linecap="round"/><path d="M191.0 472.4 L205.0 472.1" fill="none" stroke="#d02228" stroke-width="2.29" stroke-linejoin="round" stroke-linecap="round"/><path d="M205.0 472.1 L208.2 472.1 L210.8 472.3 L213.8 472.7 L219.0 473.7" fill="none" stroke="#d02228" stroke-width="2.24" stroke-linejoin="round" stroke-linecap="round"/><path d="M219.0 473.7 L222.5 474.5 L227.2 475.9 L229.5 476.8 L233.0 478.2" fill="none" stroke="#d02228" stroke-width="2.20" stroke-linejoin="round" stroke-linecap="round"/><path d="M233.0 478.2 L235.5 479.2 L240.8 481.0 L242.8 481.6 L247.0 482.4" fill="none" stroke="#d02228" stroke-width="2.16" stroke-linejoin="round" stroke-linecap="round"/><path d="M247.0 482.4 L249.2 482.7 L251.0 482.7 L253.0 482.3 L255.8 481.6 L256.8 481.2 L258.0 480.5 L261.0 478.2" fill="none" stroke="#d02228" stroke-width="2.12" stroke-linejoin="round" stroke-linecap="round"/><path d="M261.0 478.2 L262.8 476.7 L266.8 472.4 L269.2 470.2 L272.0 467.9 L275.0 466.0" fill="none" stroke="#d02228" stroke-width="2.08" stroke-linejoin="round" stroke-linecap="round"/><path d="M275.0 466.0 L278.2 464.3 L282.8 462.4 L285.2 461.7 L289.0 461.1" fill="none" stroke="#d02228" stroke-width="2.03" stroke-linejoin="round" stroke-linecap="round"/><path d="M289.0 461.1 L294.2 460.6 L303.0 460.1" fill="none" stroke="#d02228" stroke-width="1.99" stroke-linejoin="round" stroke-linecap="round"/><path d="M303.0 460.1 L317.0 459.7" fill="none" stroke="#d02228" stroke-width="1.95" stroke-linejoin="round" stroke-linecap="round"/><path d="M317.0 459.7 L331.0 459.4" fill="none" stroke="#d02228" stroke-width="1.91" stroke-linejoin="round" stroke-linecap="round"/><path d="M331.0 459.4 L342.0 459.3" fill="none" stroke="#d02228" stroke-width="1.87" stroke-linejoin="round" stroke-linecap="round"/>
<path d="M65.0 507.0 L65.8 501.2 L66.2 498.1 L67.0 495.3 L68.2 491.9 L71.2 486.1 L73.5 482.2 L76.2 478.4 L79.0 475.2" fill="none" stroke="#d02228" stroke-width="3.03" stroke-linejoin="round" stroke-linecap="round"/><path d="M79.0 475.2 L80.5 473.7 L82.2 472.2 L84.2 470.7 L86.0 469.5 L88.5 468.1 L93.0 466.3" fill="none" stroke="#d02228" stroke-width="2.94" stroke-linejoin="round" stroke-linecap="round"/><path d="M93.0 466.3 L96.0 465.3 L99.2 464.5 L102.8 463.8 L107.0 463.0" fill="none" stroke="#d02228" stroke-width="2.86" stroke-linejoin="round" stroke-linecap="round"/><path d="M107.0 463.0 L113.0 462.2 L121.0 461.3" fill="none" stroke="#d02228" stroke-width="2.78" stroke-linejoin="round" stroke-linecap="round"/><path d="M121.0 461.3 L135.0 460.0" fill="none" stroke="#d02228" stroke-width="2.69" stroke-linejoin="round" stroke-linecap="round"/><path d="M135.0 460.0 L149.0 458.9" fill="none" stroke="#d02228" stroke-width="2.61" stroke-linejoin="round" stroke-linecap="round"/><path d="M149.0 458.9 L163.0 458.3" fill="none" stroke="#d02228" stroke-width="2.52" stroke-linejoin="round" stroke-linecap="round"/><path d="M163.0 458.3 L177.0 457.9" fill="none" stroke="#d02228" stroke-width="2.44" stroke-linejoin="round" stroke-linecap="round"/><path d="M177.0 457.9 L191.0 457.5" fill="none" stroke="#d02228" stroke-width="2.36" stroke-linejoin="round" stroke-linecap="round"/><path d="M191.0 457.5 L205.0 457.2" fill="none" stroke="#d02228" stroke-width="2.27" stroke-linejoin="round" stroke-linecap="round"/><path d="M205.0 457.2 L219.0 456.9" fill="none" stroke="#d02228" stroke-width="2.19" stroke-linejoin="round" stroke-linecap="round"/><path d="M219.0 456.9 L233.0 456.7" fill="none" stroke="#d02228" stroke-width="2.10" stroke-linejoin="round" stroke-linecap="round"/><path d="M233.0 456.7 L247.0 456.4" fill="none" stroke="#d02228" stroke-width="2.02" stroke-linejoin="round" stroke-linecap="round"/><path d="M247.0 456.4 L261.0 456.2" fill="none" stroke="#d02228" stroke-width="1.94" stroke-linejoin="round" stroke-linecap="round"/><path d="M261.0 456.2 L275.0 456.1" fill="none" stroke="#d02228" stroke-width="1.85" stroke-linejoin="round" stroke-linecap="round"/><path d="M275.0 456.1 L289.0 456.0" fill="none" stroke="#d02228" stroke-width="1.77" stroke-linejoin="round" stroke-linecap="round"/><path d="M289.0 456.0 L303.0 455.9" fill="none" stroke="#d02228" stroke-width="1.70" stroke-linejoin="round" stroke-linecap="round"/><path d="M303.0 455.9 L317.0 455.8" fill="none" stroke="#d02228" stroke-width="1.70" stroke-linejoin="round" stroke-linecap="round"/><path d="M317.0 455.8 L331.0 455.8" fill="none" stroke="#d02228" stroke-width="1.70" stroke-linejoin="round" stroke-linecap="round"/><path d="M331.0 455.8 L342.0 455.8" fill="none" stroke="#d02228" stroke-width="1.70" stroke-linejoin="round" stroke-linecap="round"/>
<path d="M65.0 485.6 L72.2 480.7 L76.5 478.1 L79.0 476.7" fill="none" stroke="#16149e" stroke-width="3.73" stroke-linejoin="round" stroke-linecap="round"/><path d="M79.0 476.7 L81.5 475.6 L85.5 474.1 L89.2 472.8 L93.0 471.8" fill="none" stroke="#16149e" stroke-width="3.64" stroke-linejoin="round" stroke-linecap="round"/><path d="M93.0 471.8 L99.5 470.3 L107.0 468.9" fill="none" stroke="#16149e" stroke-width="3.56" stroke-linejoin="round" stroke-linecap="round"/><path d="M107.0 468.9 L121.0 466.7" fill="none" stroke="#16149e" stroke-width="3.48" stroke-linejoin="round" stroke-linecap="round"/><path d="M121.0 466.7 L128.0 465.9 L135.0 465.2" fill="none" stroke="#16149e" stroke-width="3.39" stroke-linejoin="round" stroke-linecap="round"/><path d="M135.0 465.2 L149.0 464.1" fill="none" stroke="#16149e" stroke-width="3.31" stroke-linejoin="round" stroke-linecap="round"/><path d="M149.0 464.1 L163.0 463.5" fill="none" stroke="#16149e" stroke-width="3.22" stroke-linejoin="round" stroke-linecap="round"/><path d="M163.0 463.5 L177.0 463.0" fill="none" stroke="#16149e" stroke-width="3.14" stroke-linejoin="round" stroke-linecap="round"/><path d="M177.0 463.0 L191.0 462.5" fill="none" stroke="#16149e" stroke-width="3.06" stroke-linejoin="round" stroke-linecap="round"/><path d="M191.0 462.5 L205.0 461.9" fill="none" stroke="#16149e" stroke-width="2.97" stroke-linejoin="round" stroke-linecap="round"/><path d="M205.0 461.9 L219.0 461.3" fill="none" stroke="#16149e" stroke-width="2.89" stroke-linejoin="round" stroke-linecap="round"/><path d="M219.0 461.3 L233.0 460.7" fill="none" stroke="#16149e" stroke-width="2.80" stroke-linejoin="round" stroke-linecap="round"/><path d="M233.0 460.7 L247.0 459.8" fill="none" stroke="#16149e" stroke-width="2.72" stroke-linejoin="round" stroke-linecap="round"/><path d="M247.0 459.8 L261.0 458.8" fill="none" stroke="#16149e" stroke-width="2.64" stroke-linejoin="round" stroke-linecap="round"/><path d="M261.0 458.8 L275.0 458.1" fill="none" stroke="#16149e" stroke-width="2.55" stroke-linejoin="round" stroke-linecap="round"/><path d="M275.0 458.1 L289.0 457.6" fill="none" stroke="#16149e" stroke-width="2.47" stroke-linejoin="round" stroke-linecap="round"/><path d="M289.0 457.6 L303.0 457.1" fill="none" stroke="#16149e" stroke-width="2.38" stroke-linejoin="round" stroke-linecap="round"/><path d="M303.0 457.1 L317.0 456.8" fill="none" stroke="#16149e" stroke-width="2.30" stroke-linejoin="round" stroke-linecap="round"/><path d="M317.0 456.8 L323.8 456.4 L325.5 456.2 L327.1 455.8" fill="none" stroke="#16149e" stroke-width="2.23" stroke-linejoin="round" stroke-linecap="round"/><path d="M65.0 485.6 L65.8 482.6 L66.5 480.9 L68.0 478.4 L69.8 476.1 L71.8 473.8 L73.8 472.0 L76.5 469.9 L79.0 468.3" fill="none" stroke="#16149e" stroke-width="3.73" stroke-linejoin="round" stroke-linecap="round"/><path d="M79.0 468.3 L82.0 466.7 L86.0 465.1 L89.5 463.9 L93.0 463.0" fill="none" stroke="#16149e" stroke-width="3.64" stroke-linejoin="round" stroke-linecap="round"/><path d="M93.0 463.0 L100.0 461.7 L107.0 460.8" fill="none" stroke="#16149e" stroke-width="3.56" stroke-linejoin="round" stroke-linecap="round"/><path d="M107.0 460.8 L113.2 460.2 L121.0 459.7" fill="none" stroke="#16149e" stroke-width="3.48" stroke-linejoin="round" stroke-linecap="round"/><path d="M121.0 459.7 L135.0 459.0" fill="none" stroke="#16149e" stroke-width="3.39" stroke-linejoin="round" stroke-linecap="round"/><path d="M135.0 459.0 L149.0 458.4" fill="none" stroke="#16149e" stroke-width="3.31" stroke-linejoin="round" stroke-linecap="round"/><path d="M149.0 458.4 L163.0 458.0" fill="none" stroke="#16149e" stroke-width="3.22" stroke-linejoin="round" stroke-linecap="round"/><path d="M163.0 458.0 L177.0 457.8" fill="none" stroke="#16149e" stroke-width="3.14" stroke-linejoin="round" stroke-linecap="round"/><path d="M177.0 457.8 L191.0 457.5" fill="none" stroke="#16149e" stroke-width="3.06" stroke-linejoin="round" stroke-linecap="round"/><path d="M191.0 457.5 L205.0 457.2" fill="none" stroke="#16149e" stroke-width="2.97" stroke-linejoin="round" stroke-linecap="round"/><path d="M205.0 457.2 L219.0 457.0" fill="none" stroke="#16149e" stroke-width="2.89" stroke-linejoin="round" stroke-linecap="round"/><path d="M219.0 457.0 L233.0 456.8" fill="none" stroke="#16149e" stroke-width="2.80" stroke-linejoin="round" stroke-linecap="round"/><path d="M233.0 456.8 L247.0 456.5" fill="none" stroke="#16149e" stroke-width="2.72" stroke-linejoin="round" stroke-linecap="round"/><path d="M247.0 456.5 L261.0 456.1" fill="none" stroke="#16149e" stroke-width="2.64" stroke-linejoin="round" stroke-linecap="round"/><path d="M261.0 456.1 L275.0 455.8" fill="none" stroke="#16149e" stroke-width="2.55" stroke-linejoin="round" stroke-linecap="round"/><path d="M275.0 455.8 L289.0 455.5" fill="none" stroke="#16149e" stroke-width="2.47" stroke-linejoin="round" stroke-linecap="round"/><path d="M289.0 455.5 L303.0 455.3" fill="none" stroke="#16149e" stroke-width="2.38" stroke-linejoin="round" stroke-linecap="round"/><path d="M303.0 455.3 L317.0 455.1" fill="none" stroke="#16149e" stroke-width="2.30" stroke-linejoin="round" stroke-linecap="round"/><path d="M317.0 455.1 L324.2 455.1 L325.2 455.3 L327.1 455.8" fill="none" stroke="#16149e" stroke-width="2.23" stroke-linejoin="round" stroke-linecap="round"/>
</g>
<rect x="59.50" y="445.50" width="282.50" height="152.90" fill="none" stroke="#000" stroke-width="1.9"/>
<line x1="93.00" y1="598.40" x2="93.00" y2="603.20" stroke="#000" stroke-width="1.80"/><line x1="136.80" y1="598.40" x2="136.80" y2="603.20" stroke="#000" stroke-width="1.80"/><line x1="180.60" y1="598.40" x2="180.60" y2="603.20" stroke="#000" stroke-width="1.80"/><line x1="224.40" y1="598.40" x2="224.40" y2="603.20" stroke="#000" stroke-width="1.80"/><line x1="268.20" y1="598.40" x2="268.20" y2="603.20" stroke="#000" stroke-width="1.80"/><line x1="312.00" y1="598.40" x2="312.00" y2="603.20" stroke="#000" stroke-width="1.80"/>
<line x1="71.10" y1="598.40" x2="71.10" y2="601.40" stroke="#000" stroke-width="1.80"/><line x1="114.90" y1="598.40" x2="114.90" y2="601.40" stroke="#000" stroke-width="1.80"/><line x1="158.70" y1="598.40" x2="158.70" y2="601.40" stroke="#000" stroke-width="1.80"/><line x1="202.50" y1="598.40" x2="202.50" y2="601.40" stroke="#000" stroke-width="1.80"/><line x1="246.30" y1="598.40" x2="246.30" y2="601.40" stroke="#000" stroke-width="1.80"/><line x1="290.10" y1="598.40" x2="290.10" y2="601.40" stroke="#000" stroke-width="1.80"/><line x1="333.90" y1="598.40" x2="333.90" y2="601.40" stroke="#000" stroke-width="1.80"/>
<line x1="59.50" y1="458.80" x2="54.70" y2="458.80" stroke="#000" stroke-width="1.80"/><line x1="59.50" y1="498.70" x2="54.70" y2="498.70" stroke="#000" stroke-width="1.80"/><line x1="59.50" y1="538.60" x2="54.70" y2="538.60" stroke="#000" stroke-width="1.80"/><line x1="59.50" y1="578.50" x2="54.70" y2="578.50" stroke="#000" stroke-width="1.80"/>
<line x1="59.50" y1="478.75" x2="56.50" y2="478.75" stroke="#000" stroke-width="1.80"/><line x1="59.50" y1="518.65" x2="56.50" y2="518.65" stroke="#000" stroke-width="1.80"/><line x1="59.50" y1="558.55" x2="56.50" y2="558.55" stroke="#000" stroke-width="1.80"/><line x1="59.50" y1="598.45" x2="56.50" y2="598.45" stroke="#000" stroke-width="1.80"/>
<text transform="translate(93.00 621.00) scale(1.105 1)" font-size="18.60" text-anchor="middle" font-weight="normal" fill="#000" stroke="#000" stroke-width="0.30" font-family="Liberation Sans, Arial, sans-serif">0.2</text>
<text transform="translate(136.80 621.00) scale(1.105 1)" font-size="18.60" text-anchor="middle" font-weight="normal" fill="#000" stroke="#000" stroke-width="0.30" font-family="Liberation Sans, Arial, sans-serif">0.4</text>
<text transform="translate(180.60 621.00) scale(1.105 1)" font-size="18.60" text-anchor="middle" font-weight="normal" fill="#000" stroke="#000" stroke-width="0.30" font-family="Liberation Sans, Arial, sans-serif">0.6</text>
<text transform="translate(224.40 621.00) scale(1.105 1)" font-size="18.60" text-anchor="middle" font-weight="normal" fill="#000" stroke="#000" stroke-width="0.30" font-family="Liberation Sans, Arial, sans-serif">0.8</text>
<text transform="translate(268.20 621.00) scale(1.105 1)" font-size="18.60" text-anchor="middle" font-weight="normal" fill="#000" stroke="#000" stroke-width="0.30" font-family="Liberation Sans, Arial, sans-serif">1.0</text>
<text transform="translate(312.00 621.00) scale(1.105 1)" font-size="18.60" text-anchor="middle" font-weight="normal" fill="#000" stroke="#000" stroke-width="0.30" font-family="Liberation Sans, Arial, sans-serif">1.2</text>
<text transform="translate(53.70 465.50) scale(1.155 1)" font-size="18.60" text-anchor="end" font-weight="normal" fill="#000" stroke="#000" stroke-width="0.30" font-family="Liberation Sans, Arial, sans-serif">0</text>
<text transform="translate(53.70 505.40) scale(1.155 1)" font-size="18.60" text-anchor="end" font-weight="normal" fill="#000" stroke="#000" stroke-width="0.30" font-family="Liberation Sans, Arial, sans-serif">-5</text>
<text transform="translate(53.70 545.30) scale(1.155 1)" font-size="18.60" text-anchor="end" font-weight="normal" fill="#000" stroke="#000" stroke-width="0.30" font-family="Liberation Sans, Arial, sans-serif">-10</text>
<text transform="translate(53.70 585.20) scale(1.155 1)" font-size="18.60" text-anchor="end" font-weight="normal" fill="#000" stroke="#000" stroke-width="0.30" font-family="Liberation Sans, Arial, sans-serif">-15</text>
<text transform="translate(0 647.00) scale(1.140 1)" font-size="18.20" text-anchor="start" stroke="#000" stroke-width="0.3" font-family="Liberation Sans, Arial, sans-serif"><tspan x="112.11">E (V</tspan><tspan x="154.12" font-style="italic">vs</tspan><tspan x="176.58">Na</tspan><tspan x="198.68" dy="-11.3" font-size="11">+</tspan><tspan x="205.70" dy="11.3">/</tspan><tspan x="211.84">Na)</tspan></text>
<text transform="translate(16.50 520.60) rotate(-90) scale(1.150 1)" font-size="19.00" text-anchor="middle" stroke="#000" stroke-width="0.3" font-family="Liberation Sans, Arial, sans-serif">Current (μA)</text>
<text transform="translate(64.20 463.00) scale(1.000 1)" font-size="23.00" text-anchor="start" font-weight="bold" fill="#000" stroke="#000" stroke-width="0.20" font-family="Liberation Sans, Arial, sans-serif">c</text>
</g>
<g id="panel-d">
<clipPath id="cd"><rect x="411.70" y="2.50" width="282.80" height="267.50"/></clipPath>
<g clip-path="url(#cd)">
<path d="M412.6 102.7 L416.1 98.6 L419.6 94.8 L422.9 91.4 L425.4 89.1 L428.4 86.5 L432.4 83.4 L438.4 79.0 L441.9 76.7 L446.1 74.3 L449.9 72.4 L453.4 70.8 L456.9 69.4 L461.4 67.9 L466.4 66.3 L471.1 65.1 L478.1 63.4 L482.9 62.4 L486.9 61.7 L491.9 61.1 L496.6 60.6 L502.9 60.3 L510.9 60.0 L515.1 60.0 L517.9 60.2 L520.6 60.7 L523.9 61.5 L528.9 63.0 L531.1 63.9 L534.1 65.4 L539.9 68.7 L542.9 70.7 L545.4 72.6 L547.4 74.4 L549.4 76.6 L551.6 79.4 L554.9 83.6 L558.6 89.1 L560.9 92.8 L562.6 95.9 L565.4 101.4 L568.1 108.1 L571.1 116.5 L573.1 123.3 L574.4 128.4 L575.6 134.5 L577.1 143.1 L578.4 151.2 L581.4 174.8 L586.1 214.2 L587.9 227.4 L589.1 235.9 L590.4 243.4 L591.4 248.1 L591.9 249.9 L592.4 251.2 L592.9 252.1 L593.1 252.4 L593.4 252.5 L593.6 252.3 L593.9 252.0 L594.4 251.0 L595.4 247.3 L596.6 241.2 L597.9 233.7 L600.4 215.4 L605.6 172.0 L609.4 143.5 L611.6 128.0 L614.1 113.0 L617.1 94.0 L619.6 80.4 L621.1 73.5 L622.1 69.3 L623.1 65.9 L624.4 62.2 L625.6 58.9 L626.6 56.7 L628.4 53.4 L629.9 51.0 L631.1 49.4 L632.9 47.8 L634.9 46.3 L636.9 45.2 L640.4 43.7 L643.6 42.7 L645.6 42.3 L650.1 41.7 L654.4 41.3 L658.9 41.0 L678.9 40.1 L686.9 39.9 L694.5 39.8" fill="none" stroke="#000000" stroke-width="2.10" stroke-linejoin="round" stroke-linecap="round"/>
<path d="M412.6 102.7 L414.4 95.3 L415.9 90.1 L417.9 84.3 L420.9 76.3 L422.9 71.8 L425.1 67.3 L429.4 59.5 L430.6 57.5 L431.6 56.0 L434.1 53.0 L437.1 50.2 L441.6 46.5 L443.6 45.0 L445.4 43.9 L447.9 42.5 L451.1 41.2 L458.1 38.7 L462.1 37.5 L467.1 36.3 L473.4 35.2 L481.9 34.1 L491.1 33.1 L498.4 32.5 L504.4 32.0 L532.4 30.7 L547.4 30.1 L562.4 29.7 L605.9 28.9 L634.4 28.6 L677.0 28.6" fill="none" stroke="#000000" stroke-width="2.10" stroke-linejoin="round" stroke-linecap="round"/>
<path d="M412.6 78.5 L415.4 74.8 L417.9 71.8 L420.6 68.7 L423.6 65.7 L426.6 63.0 L429.1 60.9 L431.9 58.9 L434.9 57.1 L438.1 55.3 L441.6 53.7 L445.1 52.2 L448.9 50.9 L452.9 49.7 L456.9 48.7 L462.4 47.4 L467.9 46.3 L472.9 45.4 L479.1 44.5 L490.6 43.1 L512.6 41.2 L530.4 39.9 L551.6 38.4 L564.1 37.4 L573.9 36.4 L583.1 35.3 L587.9 34.7 L597.9 33.1 L605.4 32.3 L612.9 31.8 L622.1 31.3 L676.0 29.0" fill="none" stroke="#000000" stroke-width="2.10" stroke-linejoin="round" stroke-linecap="round"/>
<path d="M412.6 78.5 L413.6 73.7 L414.6 69.6 L416.1 64.7 L417.4 61.4 L419.1 57.5 L420.9 54.4 L422.9 51.6 L425.1 49.1 L427.6 46.7 L430.6 44.3 L433.6 42.3 L437.1 40.4 L441.4 38.4 L445.1 37.0 L449.4 35.8 L453.9 34.8 L459.6 33.9 L466.4 33.1 L473.4 32.5 L481.9 32.0 L498.6 31.2 L545.6 29.7 L564.6 29.3 L589.1 29.1 L634.9 28.8 L677.0 28.7" fill="none" stroke="#000000" stroke-width="2.10" stroke-linejoin="round" stroke-linecap="round"/>
<path d="M412.6 74.0 L415.9 70.1 L419.1 66.6 L421.9 64.0 L426.6 59.9" fill="none" stroke="#d02228" stroke-width="3.53" stroke-linejoin="round" stroke-linecap="round"/><path d="M426.6 59.9 L429.6 57.6 L433.1 55.6 L436.6 53.9 L440.6 52.3" fill="none" stroke="#d02228" stroke-width="3.41" stroke-linejoin="round" stroke-linecap="round"/><path d="M440.6 52.3 L447.4 50.1 L454.6 48.2" fill="none" stroke="#d02228" stroke-width="3.28" stroke-linejoin="round" stroke-linecap="round"/><path d="M454.6 48.2 L460.9 46.9 L468.6 45.7" fill="none" stroke="#d02228" stroke-width="3.15" stroke-linejoin="round" stroke-linecap="round"/><path d="M468.6 45.7 L482.6 43.6" fill="none" stroke="#d02228" stroke-width="3.03" stroke-linejoin="round" stroke-linecap="round"/><path d="M482.6 43.6 L489.1 42.9 L496.6 42.3" fill="none" stroke="#d02228" stroke-width="2.90" stroke-linejoin="round" stroke-linecap="round"/><path d="M496.6 42.3 L510.6 41.4" fill="none" stroke="#d02228" stroke-width="2.78" stroke-linejoin="round" stroke-linecap="round"/><path d="M510.6 41.4 L524.6 40.3" fill="none" stroke="#d02228" stroke-width="2.65" stroke-linejoin="round" stroke-linecap="round"/><path d="M524.6 40.3 L538.6 39.3" fill="none" stroke="#d02228" stroke-width="2.52" stroke-linejoin="round" stroke-linecap="round"/><path d="M538.6 39.3 L552.6 38.4" fill="none" stroke="#d02228" stroke-width="2.40" stroke-linejoin="round" stroke-linecap="round"/><path d="M552.6 38.4 L566.6 37.1" fill="none" stroke="#d02228" stroke-width="2.27" stroke-linejoin="round" stroke-linecap="round"/><path d="M566.6 37.1 L580.6 35.6" fill="none" stroke="#d02228" stroke-width="2.15" stroke-linejoin="round" stroke-linecap="round"/><path d="M580.6 35.6 L587.4 34.8 L594.6 33.6" fill="none" stroke="#d02228" stroke-width="2.02" stroke-linejoin="round" stroke-linecap="round"/><path d="M594.6 33.6 L599.9 32.8 L608.6 32.0" fill="none" stroke="#d02228" stroke-width="1.89" stroke-linejoin="round" stroke-linecap="round"/><path d="M608.6 32.0 L622.6 31.3" fill="none" stroke="#d02228" stroke-width="1.77" stroke-linejoin="round" stroke-linecap="round"/><path d="M622.6 31.3 L636.6 30.8" fill="none" stroke="#d02228" stroke-width="1.64" stroke-linejoin="round" stroke-linecap="round"/><path d="M636.6 30.8 L650.6 30.2" fill="none" stroke="#d02228" stroke-width="1.60" stroke-linejoin="round" stroke-linecap="round"/><path d="M650.6 30.2 L664.6 29.5" fill="none" stroke="#d02228" stroke-width="1.60" stroke-linejoin="round" stroke-linecap="round"/><path d="M664.6 29.5 L676.0 29.0" fill="none" stroke="#d02228" stroke-width="1.60" stroke-linejoin="round" stroke-linecap="round"/>
<path d="M412.6 74.0 L413.6 69.4 L414.6 65.7 L416.1 61.5 L417.6 58.3 L419.4 55.2 L421.4 52.4 L423.9 49.5 L426.6 46.9" fill="none" stroke="#d02228" stroke-width="2.94" stroke-linejoin="round" stroke-linecap="round"/><path d="M426.6 46.9 L429.6 44.5 L432.9 42.4 L436.6 40.4 L440.6 38.6" fill="none" stroke="#d02228" stroke-width="2.83" stroke-linejoin="round" stroke-linecap="round"/><path d="M440.6 38.6 L443.9 37.4 L446.9 36.5 L451.1 35.4 L454.6 34.6" fill="none" stroke="#d02228" stroke-width="2.72" stroke-linejoin="round" stroke-linecap="round"/><path d="M454.6 34.6 L461.4 33.7 L468.6 32.9" fill="none" stroke="#d02228" stroke-width="2.60" stroke-linejoin="round" stroke-linecap="round"/><path d="M468.6 32.9 L475.1 32.4 L482.6 31.9" fill="none" stroke="#d02228" stroke-width="2.49" stroke-linejoin="round" stroke-linecap="round"/><path d="M482.6 31.9 L496.6 31.3" fill="none" stroke="#d02228" stroke-width="2.38" stroke-linejoin="round" stroke-linecap="round"/><path d="M496.6 31.3 L510.6 30.8" fill="none" stroke="#d02228" stroke-width="2.27" stroke-linejoin="round" stroke-linecap="round"/><path d="M510.6 30.8 L524.6 30.3" fill="none" stroke="#d02228" stroke-width="2.16" stroke-linejoin="round" stroke-linecap="round"/><path d="M524.6 30.3 L538.6 29.9" fill="none" stroke="#d02228" stroke-width="2.04" stroke-linejoin="round" stroke-linecap="round"/><path d="M538.6 29.9 L552.6 29.5" fill="none" stroke="#d02228" stroke-width="1.93" stroke-linejoin="round" stroke-linecap="round"/><path d="M552.6 29.5 L566.6 29.2" fill="none" stroke="#d02228" stroke-width="1.82" stroke-linejoin="round" stroke-linecap="round"/><path d="M566.6 29.2 L580.6 29.1" fill="none" stroke="#d02228" stroke-width="1.71" stroke-linejoin="round" stroke-linecap="round"/><path d="M580.6 29.1 L594.6 29.0" fill="none" stroke="#d02228" stroke-width="1.60" stroke-linejoin="round" stroke-linecap="round"/><path d="M594.6 29.0 L608.6 28.9" fill="none" stroke="#d02228" stroke-width="1.50" stroke-linejoin="round" stroke-linecap="round"/><path d="M608.6 28.9 L622.6 28.8" fill="none" stroke="#d02228" stroke-width="1.50" stroke-linejoin="round" stroke-linecap="round"/><path d="M622.6 28.8 L636.6 28.8" fill="none" stroke="#d02228" stroke-width="1.50" stroke-linejoin="round" stroke-linecap="round"/><path d="M636.6 28.8 L650.6 28.8" fill="none" stroke="#d02228" stroke-width="1.50" stroke-linejoin="round" stroke-linecap="round"/><path d="M650.6 28.8 L664.6 28.8" fill="none" stroke="#d02228" stroke-width="1.50" stroke-linejoin="round" stroke-linecap="round"/><path d="M664.6 28.8 L678.6 28.8" fill="none" stroke="#d02228" stroke-width="1.50" stroke-linejoin="round" stroke-linecap="round"/><path d="M678.6 28.8 L692.6 28.9" fill="none" stroke="#d02228" stroke-width="1.50" stroke-linejoin="round" stroke-linecap="round"/><path d="M692.6 28.9 L694.5 28.9" fill="none" stroke="#d02228" stroke-width="1.50" stroke-linejoin="round" stroke-linecap="round"/>
<path d="M412.6 64.8 L414.9 63.6 L417.1 62.1 L421.6 58.3 L426.6 54.6" fill="none" stroke="#16149e" stroke-width="3.93" stroke-linejoin="round" stroke-linecap="round"/><path d="M426.6 54.6 L429.9 52.5 L434.4 50.0 L437.6 48.4 L440.6 47.3" fill="none" stroke="#16149e" stroke-width="3.81" stroke-linejoin="round" stroke-linecap="round"/><path d="M440.6 47.3 L450.6 44.5 L454.6 43.6" fill="none" stroke="#16149e" stroke-width="3.68" stroke-linejoin="round" stroke-linecap="round"/><path d="M454.6 43.6 L460.6 42.6 L468.6 41.6" fill="none" stroke="#16149e" stroke-width="3.55" stroke-linejoin="round" stroke-linecap="round"/><path d="M468.6 41.6 L482.6 40.2" fill="none" stroke="#16149e" stroke-width="3.43" stroke-linejoin="round" stroke-linecap="round"/><path d="M482.6 40.2 L496.6 39.0" fill="none" stroke="#16149e" stroke-width="3.30" stroke-linejoin="round" stroke-linecap="round"/><path d="M496.6 39.0 L504.6 38.4 L510.6 37.8" fill="none" stroke="#16149e" stroke-width="3.18" stroke-linejoin="round" stroke-linecap="round"/><path d="M510.6 37.8 L524.6 36.2" fill="none" stroke="#16149e" stroke-width="3.05" stroke-linejoin="round" stroke-linecap="round"/><path d="M524.6 36.2 L530.4 35.8 L538.6 35.3" fill="none" stroke="#16149e" stroke-width="2.92" stroke-linejoin="round" stroke-linecap="round"/><path d="M538.6 35.3 L552.6 34.5" fill="none" stroke="#16149e" stroke-width="2.80" stroke-linejoin="round" stroke-linecap="round"/><path d="M552.6 34.5 L566.6 33.7" fill="none" stroke="#16149e" stroke-width="2.67" stroke-linejoin="round" stroke-linecap="round"/><path d="M566.6 33.7 L580.6 32.8" fill="none" stroke="#16149e" stroke-width="2.55" stroke-linejoin="round" stroke-linecap="round"/><path d="M580.6 32.8 L594.6 32.1" fill="none" stroke="#16149e" stroke-width="2.42" stroke-linejoin="round" stroke-linecap="round"/><path d="M594.6 32.1 L608.6 31.6" fill="none" stroke="#16149e" stroke-width="2.29" stroke-linejoin="round" stroke-linecap="round"/><path d="M608.6 31.6 L622.6 31.1" fill="none" stroke="#16149e" stroke-width="2.17" stroke-linejoin="round" stroke-linecap="round"/><path d="M622.6 31.1 L636.6 30.5" fill="none" stroke="#16149e" stroke-width="2.04" stroke-linejoin="round" stroke-linecap="round"/><path d="M636.6 30.5 L650.6 30.1" fill="none" stroke="#16149e" stroke-width="2.00" stroke-linejoin="round" stroke-linecap="round"/><path d="M650.6 30.1 L664.6 29.6" fill="none" stroke="#16149e" stroke-width="2.00" stroke-linejoin="round" stroke-linecap="round"/><path d="M664.6 29.6 L674.1 29.2 L675.9 29.0 L678.5 28.4" fill="none" stroke="#16149e" stroke-width="2.00" stroke-linejoin="round" stroke-linecap="round"/><path d="M412.6 64.8 L413.9 61.3 L414.9 59.6 L416.9 57.1 L419.9 52.9 L421.4 51.0 L423.9 48.3 L426.6 45.8" fill="none" stroke="#16149e" stroke-width="3.93" stroke-linejoin="round" stroke-linecap="round"/><path d="M426.6 45.8 L429.6 43.4 L432.9 41.3 L436.4 39.5 L440.6 37.6" fill="none" stroke="#16149e" stroke-width="3.81" stroke-linejoin="round" stroke-linecap="round"/><path d="M440.6 37.6 L443.9 36.4 L446.6 35.5 L450.6 34.6 L454.6 33.8" fill="none" stroke="#16149e" stroke-width="3.68" stroke-linejoin="round" stroke-linecap="round"/><path d="M454.6 33.8 L461.4 33.0 L468.6 32.3" fill="none" stroke="#16149e" stroke-width="3.55" stroke-linejoin="round" stroke-linecap="round"/><path d="M468.6 32.3 L482.6 31.4" fill="none" stroke="#16149e" stroke-width="3.43" stroke-linejoin="round" stroke-linecap="round"/><path d="M482.6 31.4 L496.6 30.8" fill="none" stroke="#16149e" stroke-width="3.30" stroke-linejoin="round" stroke-linecap="round"/><path d="M496.6 30.8 L510.6 30.4" fill="none" stroke="#16149e" stroke-width="3.18" stroke-linejoin="round" stroke-linecap="round"/><path d="M510.6 30.4 L524.6 30.0" fill="none" stroke="#16149e" stroke-width="3.05" stroke-linejoin="round" stroke-linecap="round"/><path d="M524.6 30.0 L538.6 29.6" fill="none" stroke="#16149e" stroke-width="2.92" stroke-linejoin="round" stroke-linecap="round"/><path d="M538.6 29.6 L552.6 29.2" fill="none" stroke="#16149e" stroke-width="2.80" stroke-linejoin="round" stroke-linecap="round"/><path d="M552.6 29.2 L566.6 28.9" fill="none" stroke="#16149e" stroke-width="2.67" stroke-linejoin="round" stroke-linecap="round"/><path d="M566.6 28.9 L580.6 28.7" fill="none" stroke="#16149e" stroke-width="2.55" stroke-linejoin="round" stroke-linecap="round"/><path d="M580.6 28.7 L594.6 28.5" fill="none" stroke="#16149e" stroke-width="2.42" stroke-linejoin="round" stroke-linecap="round"/><path d="M594.6 28.5 L608.6 28.3" fill="none" stroke="#16149e" stroke-width="2.29" stroke-linejoin="round" stroke-linecap="round"/><path d="M608.6 28.3 L622.6 28.2" fill="none" stroke="#16149e" stroke-width="2.17" stroke-linejoin="round" stroke-linecap="round"/><path d="M622.6 28.2 L636.6 28.1" fill="none" stroke="#16149e" stroke-width="2.04" stroke-linejoin="round" stroke-linecap="round"/><path d="M636.6 28.1 L650.6 27.9" fill="none" stroke="#16149e" stroke-width="2.00" stroke-linejoin="round" stroke-linecap="round"/><path d="M650.6 27.9 L664.6 27.8" fill="none" stroke="#16149e" stroke-width="2.00" stroke-linejoin="round" stroke-linecap="round"/><path d="M664.6 27.8 L674.4 27.8 L675.9 28.0 L678.5 28.4" fill="none" stroke="#16149e" stroke-width="2.00" stroke-linejoin="round" stroke-linecap="round"/>
</g>
<rect x="411.70" y="2.50" width="282.80" height="267.50" fill="none" stroke="#000" stroke-width="1.9"/>
<line x1="442.40" y1="270.00" x2="442.40" y2="274.80" stroke="#000" stroke-width="1.80"/><line x1="486.30" y1="270.00" x2="486.30" y2="274.80" stroke="#000" stroke-width="1.80"/><line x1="530.20" y1="270.00" x2="530.20" y2="274.80" stroke="#000" stroke-width="1.80"/><line x1="574.10" y1="270.00" x2="574.10" y2="274.80" stroke="#000" stroke-width="1.80"/><line x1="618.00" y1="270.00" x2="618.00" y2="274.80" stroke="#000" stroke-width="1.80"/><line x1="661.90" y1="270.00" x2="661.90" y2="274.80" stroke="#000" stroke-width="1.80"/>
<line x1="420.45" y1="270.00" x2="420.45" y2="273.00" stroke="#000" stroke-width="1.80"/><line x1="464.35" y1="270.00" x2="464.35" y2="273.00" stroke="#000" stroke-width="1.80"/><line x1="508.25" y1="270.00" x2="508.25" y2="273.00" stroke="#000" stroke-width="1.80"/><line x1="552.15" y1="270.00" x2="552.15" y2="273.00" stroke="#000" stroke-width="1.80"/><line x1="596.05" y1="270.00" x2="596.05" y2="273.00" stroke="#000" stroke-width="1.80"/><line x1="639.95" y1="270.00" x2="639.95" y2="273.00" stroke="#000" stroke-width="1.80"/><line x1="683.85" y1="270.00" x2="683.85" y2="273.00" stroke="#000" stroke-width="1.80"/>
<line x1="411.70" y1="33.00" x2="406.90" y2="33.00" stroke="#000" stroke-width="1.80"/><line x1="411.70" y1="80.15" x2="406.90" y2="80.15" stroke="#000" stroke-width="1.80"/><line x1="411.70" y1="127.30" x2="406.90" y2="127.30" stroke="#000" stroke-width="1.80"/><line x1="411.70" y1="174.45" x2="406.90" y2="174.45" stroke="#000" stroke-width="1.80"/><line x1="411.70" y1="221.60" x2="406.90" y2="221.60" stroke="#000" stroke-width="1.80"/><line x1="411.70" y1="268.75" x2="406.90" y2="268.75" stroke="#000" stroke-width="1.80"/>
<line x1="411.70" y1="9.43" x2="408.70" y2="9.43" stroke="#000" stroke-width="1.80"/><line x1="411.70" y1="56.58" x2="408.70" y2="56.58" stroke="#000" stroke-width="1.80"/><line x1="411.70" y1="103.72" x2="408.70" y2="103.72" stroke="#000" stroke-width="1.80"/><line x1="411.70" y1="150.88" x2="408.70" y2="150.88" stroke="#000" stroke-width="1.80"/><line x1="411.70" y1="198.03" x2="408.70" y2="198.03" stroke="#000" stroke-width="1.80"/><line x1="411.70" y1="245.17" x2="408.70" y2="245.17" stroke="#000" stroke-width="1.80"/>
<text transform="translate(442.40 293.00) scale(1.105 1)" font-size="17.30" text-anchor="middle" font-weight="normal" fill="#000" stroke="#000" stroke-width="0.30" font-family="Liberation Sans, Arial, sans-serif">0.2</text>
<text transform="translate(486.30 293.00) scale(1.105 1)" font-size="17.30" text-anchor="middle" font-weight="normal" fill="#000" stroke="#000" stroke-width="0.30" font-family="Liberation Sans, Arial, sans-serif">0.4</text>
<text transform="translate(530.20 293.00) scale(1.105 1)" font-size="17.30" text-anchor="middle" font-weight="normal" fill="#000" stroke="#000" stroke-width="0.30" font-family="Liberation Sans, Arial, sans-serif">0.6</text>
<text transform="translate(574.10 293.00) scale(1.105 1)" font-size="17.30" text-anchor="middle" font-weight="normal" fill="#000" stroke="#000" stroke-width="0.30" font-family="Liberation Sans, Arial, sans-serif">0.8</text>
<text transform="translate(618.00 293.00) scale(1.105 1)" font-size="17.30" text-anchor="middle" font-weight="normal" fill="#000" stroke="#000" stroke-width="0.30" font-family="Liberation Sans, Arial, sans-serif">1.0</text>
<text transform="translate(661.90 293.00) scale(1.105 1)" font-size="17.30" text-anchor="middle" font-weight="normal" fill="#000" stroke="#000" stroke-width="0.30" font-family="Liberation Sans, Arial, sans-serif">1.2</text>
<text transform="translate(405.90 39.20) scale(1.165 1)" font-size="17.30" text-anchor="end" font-weight="normal" fill="#000" stroke="#000" stroke-width="0.30" font-family="Liberation Sans, Arial, sans-serif">0</text>
<text transform="translate(405.90 86.35) scale(1.165 1)" font-size="17.30" text-anchor="end" font-weight="normal" fill="#000" stroke="#000" stroke-width="0.30" font-family="Liberation Sans, Arial, sans-serif">-5</text>
<text transform="translate(405.90 133.50) scale(1.165 1)" font-size="17.30" text-anchor="end" font-weight="normal" fill="#000" stroke="#000" stroke-width="0.30" font-family="Liberation Sans, Arial, sans-serif">-10</text>
<text transform="translate(405.90 180.65) scale(1.165 1)" font-size="17.30" text-anchor="end" font-weight="normal" fill="#000" stroke="#000" stroke-width="0.30" font-family="Liberation Sans, Arial, sans-serif">-15</text>
<text transform="translate(405.90 227.80) scale(1.165 1)" font-size="17.30" text-anchor="end" font-weight="normal" fill="#000" stroke="#000" stroke-width="0.30" font-family="Liberation Sans, Arial, sans-serif">-20</text>
<text transform="translate(405.90 274.95) scale(1.165 1)" font-size="17.30" text-anchor="end" font-weight="normal" fill="#000" stroke="#000" stroke-width="0.30" font-family="Liberation Sans, Arial, sans-serif">-25</text>
<text transform="translate(0 316.00) scale(1.140 1)" font-size="18.20" text-anchor="start" stroke="#000" stroke-width="0.3" font-family="Liberation Sans, Arial, sans-serif"><tspan x="421.93">E (V</tspan><tspan x="463.95" font-style="italic">vs</tspan><tspan x="486.40">Na</tspan><tspan x="508.51" dy="-11.3" font-size="11">+</tspan><tspan x="515.53" dy="11.3">/</tspan><tspan x="521.67">Na)</tspan></text>
<text transform="translate(367.70 139.80) rotate(-90) scale(1.142 1)" font-size="18.87" text-anchor="middle" stroke="#000" stroke-width="0.3" font-family="Liberation Sans, Arial, sans-serif">Current (μA)</text>
<text transform="translate(416.70 26.20) scale(1.000 1)" font-size="23.00" text-anchor="start" font-weight="bold" fill="#000" stroke="#000" stroke-width="0.20" font-family="Liberation Sans, Arial, sans-serif">d</text>
</g>
<g id="panel-e">
<clipPath id="ce"><rect x="414.40" y="331.80" width="282.60" height="267.90"/></clipPath>
<g clip-path="url(#ce)">
<path d="M417.6 508.5 L422.9 495.2 L428.4 480.5 L433.4 467.9 L439.1 454.4 L441.6 448.9 L444.1 443.7 L447.1 437.8 L449.9 432.7 L452.6 428.0 L455.1 424.0 L458.1 419.5 L461.1 415.4 L464.4 411.4 L467.6 407.6 L470.6 404.4 L473.6 401.6 L477.4 398.5 L480.9 395.9 L484.1 393.8 L487.9 391.7 L490.9 390.3 L494.4 389.0 L497.4 388.1 L499.9 387.4 L505.9 386.2 L509.6 385.7 L522.6 385.7 L524.6 386.1 L526.9 386.9 L528.9 388.0 L531.6 389.6 L532.9 390.5 L534.1 391.5 L535.9 393.4 L537.6 395.5 L539.1 397.5 L540.4 399.6 L541.9 402.6 L543.6 406.6 L545.1 410.3 L546.4 413.8 L547.9 418.4 L549.4 423.4 L551.9 433.0 L553.9 441.9 L555.6 450.8 L557.4 460.9 L558.9 470.6 L560.1 480.0 L565.9 526.2 L568.9 552.8 L570.9 569.4 L571.9 575.9 L572.4 578.6 L573.1 581.0 L573.4 581.6 L573.6 581.8 L573.9 581.6 L574.1 581.0 L574.9 578.6 L575.9 573.2 L577.4 562.9 L578.6 552.1 L580.6 531.1 L582.1 514.1 L585.1 476.4 L587.4 449.8 L588.9 434.7 L590.6 419.6 L592.6 405.7 L593.6 399.7 L594.6 394.5 L596.1 387.9 L597.1 384.1 L598.1 381.1 L599.4 378.6 L600.6 376.5 L601.9 375.0 L602.9 374.0 L605.1 372.5 L607.1 371.4 L608.9 370.7 L610.6 370.2 L613.9 369.6 L618.6 369.0 L624.6 368.4 L639.1 367.7 L646.9 367.1 L651.6 366.6 L659.4 365.6 L664.6 365.1 L697.0 362.5" fill="none" stroke="#000000" stroke-width="2.10" stroke-linejoin="round" stroke-linecap="round"/>
<path d="M417.6 508.5 L418.6 496.3 L419.9 483.2 L421.6 467.3 L423.1 455.1 L424.4 446.7 L427.9 426.1 L428.9 421.3 L430.1 416.2 L432.6 407.5 L438.4 390.5 L440.6 383.2 L441.6 380.7 L442.6 378.9 L443.9 377.0 L445.1 375.4 L446.6 373.7 L448.4 372.0 L450.9 369.7 L452.9 368.1 L454.6 366.8 L456.4 365.7 L458.1 364.7 L462.9 362.6 L468.4 360.6 L474.4 358.8 L481.4 357.2 L488.4 355.9 L498.4 354.4 L505.4 353.7 L513.1 353.2 L524.4 352.8 L545.1 352.3 L592.6 351.9 L641.0 351.8" fill="none" stroke="#000000" stroke-width="2.10" stroke-linejoin="round" stroke-linecap="round"/>
<path d="M417.6 435.8 L419.9 431.7 L422.1 427.0 L423.4 424.1 L426.4 416.2 L428.6 411.3 L430.6 407.2 L432.4 404.0 L434.1 401.2 L436.4 397.9 L438.6 395.0 L442.4 390.7 L446.1 386.8 L450.1 383.2 L454.6 379.5 L458.4 376.9 L463.1 374.1 L466.4 372.4 L470.6 370.8 L474.9 369.4 L480.4 368.1 L486.6 366.8 L493.9 365.6 L500.6 364.7 L507.4 363.9 L518.6 362.7 L529.9 361.7 L549.1 360.2 L571.1 358.9 L608.6 357.2 L641.0 356.0" fill="none" stroke="#000000" stroke-width="2.10" stroke-linejoin="round" stroke-linecap="round"/>
<path d="M417.6 435.8 L418.1 428.0 L418.6 422.0 L419.4 416.4 L420.1 412.2 L421.9 404.4 L423.4 398.9 L424.9 394.4 L426.6 390.2 L434.1 375.9 L435.9 373.1 L437.6 370.9 L439.1 369.3 L440.9 367.6 L442.4 366.3 L444.1 365.1 L445.9 364.0 L448.1 362.8 L450.4 361.8 L452.6 360.9 L457.6 359.2 L462.6 357.8 L467.4 356.8 L474.4 355.6 L479.9 354.8 L485.4 354.3 L494.6 353.5 L502.9 353.0 L523.4 352.4 L545.9 352.0 L591.4 351.9 L641.0 351.8" fill="none" stroke="#000000" stroke-width="2.10" stroke-linejoin="round" stroke-linecap="round"/>
<path d="M417.8 419.0 L419.1 414.5 L420.1 411.4 L421.1 408.9 L422.1 407.0 L428.8 396.9 L430.8 394.1 L433.1 391.3 L435.8 388.4 L438.8 385.7 L442.1 383.1 L445.3 381.0 L449.3 378.6 L453.8 376.3 L457.3 374.7 L461.6 373.1 L466.3 371.7 L472.3 370.1 L480.3 368.3 L486.8 366.9 L492.6 365.9 L498.8 365.1 L506.6 364.2 L520.8 362.7 L533.0 361.5 L550.3 360.1 L571.3 358.9 L609.3 357.2 L641.0 356.0" fill="none" stroke="#000000" stroke-width="2.10" stroke-linejoin="round" stroke-linecap="round"/>
<path d="M417.8 419.0 L418.6 409.9 L419.1 405.1 L419.8 400.2 L420.6 396.4 L422.1 390.4 L423.8 384.6 L425.6 380.0 L427.8 375.1 L429.6 372.0 L431.8 368.9 L434.1 366.2 L436.6 363.8 L439.8 361.4 L443.1 359.4 L446.3 358.0 L450.3 356.6 L453.8 355.7 L457.8 355.0 L462.6 354.4 L471.3 353.6 L482.3 352.8 L499.8 352.1 L507.6 352.0 L543.8 351.9 L641.0 351.8" fill="none" stroke="#000000" stroke-width="2.10" stroke-linejoin="round" stroke-linecap="round"/>
<path d="M418.1 414.2 L419.9 410.2 L421.6 407.0 L429.6 395.3 L432.1 392.0" fill="none" stroke="#d02228" stroke-width="3.47" stroke-linejoin="round" stroke-linecap="round"/><path d="M432.1 392.0 L435.1 388.7 L438.6 385.5 L442.1 382.7 L446.1 380.1" fill="none" stroke="#d02228" stroke-width="3.30" stroke-linejoin="round" stroke-linecap="round"/><path d="M446.1 380.1 L449.6 378.1 L454.4 375.6 L457.1 374.3 L460.1 373.2" fill="none" stroke="#d02228" stroke-width="3.13" stroke-linejoin="round" stroke-linecap="round"/><path d="M460.1 373.2 L466.4 371.3 L474.1 369.4" fill="none" stroke="#d02228" stroke-width="2.96" stroke-linejoin="round" stroke-linecap="round"/><path d="M474.1 369.4 L481.6 367.7 L488.1 366.4" fill="none" stroke="#d02228" stroke-width="2.79" stroke-linejoin="round" stroke-linecap="round"/><path d="M488.1 366.4 L494.6 365.3 L502.1 364.3" fill="none" stroke="#d02228" stroke-width="2.63" stroke-linejoin="round" stroke-linecap="round"/><path d="M502.1 364.3 L516.1 362.9" fill="none" stroke="#d02228" stroke-width="2.46" stroke-linejoin="round" stroke-linecap="round"/><path d="M516.1 362.9 L530.1 361.8" fill="none" stroke="#d02228" stroke-width="2.29" stroke-linejoin="round" stroke-linecap="round"/><path d="M530.1 361.8 L544.1 360.8" fill="none" stroke="#d02228" stroke-width="2.12" stroke-linejoin="round" stroke-linecap="round"/><path d="M544.1 360.8 L558.1 359.9" fill="none" stroke="#d02228" stroke-width="1.95" stroke-linejoin="round" stroke-linecap="round"/><path d="M558.1 359.9 L572.1 359.2" fill="none" stroke="#d02228" stroke-width="1.79" stroke-linejoin="round" stroke-linecap="round"/><path d="M572.1 359.2 L586.1 358.5" fill="none" stroke="#d02228" stroke-width="1.70" stroke-linejoin="round" stroke-linecap="round"/><path d="M586.1 358.5 L600.1 357.9" fill="none" stroke="#d02228" stroke-width="1.70" stroke-linejoin="round" stroke-linecap="round"/><path d="M600.1 357.9 L614.1 357.3" fill="none" stroke="#d02228" stroke-width="1.70" stroke-linejoin="round" stroke-linecap="round"/><path d="M614.1 357.3 L628.1 356.8" fill="none" stroke="#d02228" stroke-width="1.70" stroke-linejoin="round" stroke-linecap="round"/><path d="M628.1 356.8 L642.0 356.3" fill="none" stroke="#d02228" stroke-width="1.70" stroke-linejoin="round" stroke-linecap="round"/>
<path d="M418.1 414.2 L419.1 404.8 L419.9 400.0 L420.9 395.5 L422.6 389.2 L424.6 383.3 L425.9 380.2 L427.4 376.8 L429.6 372.5 L432.1 368.8" fill="none" stroke="#d02228" stroke-width="2.87" stroke-linejoin="round" stroke-linecap="round"/><path d="M432.1 368.8 L433.6 366.9 L435.1 365.3 L436.4 364.1 L437.9 362.8 L439.9 361.4 L441.9 360.1 L443.9 359.1 L446.1 358.1" fill="none" stroke="#d02228" stroke-width="2.70" stroke-linejoin="round" stroke-linecap="round"/><path d="M446.1 358.1 L449.6 356.9 L452.9 356.0 L455.9 355.3 L460.1 354.7" fill="none" stroke="#d02228" stroke-width="2.53" stroke-linejoin="round" stroke-linecap="round"/><path d="M460.1 354.7 L465.9 354.1 L474.1 353.4" fill="none" stroke="#d02228" stroke-width="2.36" stroke-linejoin="round" stroke-linecap="round"/><path d="M474.1 353.4 L480.6 353.0 L488.1 352.6" fill="none" stroke="#d02228" stroke-width="2.19" stroke-linejoin="round" stroke-linecap="round"/><path d="M488.1 352.6 L502.1 352.1" fill="none" stroke="#d02228" stroke-width="2.03" stroke-linejoin="round" stroke-linecap="round"/><path d="M502.1 352.1 L516.1 352.0" fill="none" stroke="#d02228" stroke-width="1.86" stroke-linejoin="round" stroke-linecap="round"/><path d="M516.1 352.0 L530.1 352.0" fill="none" stroke="#d02228" stroke-width="1.69" stroke-linejoin="round" stroke-linecap="round"/><path d="M530.1 352.0 L544.1 352.0" fill="none" stroke="#d02228" stroke-width="1.60" stroke-linejoin="round" stroke-linecap="round"/><path d="M544.1 352.0 L558.1 352.0" fill="none" stroke="#d02228" stroke-width="1.60" stroke-linejoin="round" stroke-linecap="round"/><path d="M558.1 352.0 L572.1 352.0" fill="none" stroke="#d02228" stroke-width="1.60" stroke-linejoin="round" stroke-linecap="round"/><path d="M572.1 352.0 L586.1 352.0" fill="none" stroke="#d02228" stroke-width="1.60" stroke-linejoin="round" stroke-linecap="round"/><path d="M586.1 352.0 L600.1 352.0" fill="none" stroke="#d02228" stroke-width="1.60" stroke-linejoin="round" stroke-linecap="round"/><path d="M600.1 352.0 L614.1 352.0" fill="none" stroke="#d02228" stroke-width="1.60" stroke-linejoin="round" stroke-linecap="round"/><path d="M614.1 352.0 L628.1 352.0" fill="none" stroke="#d02228" stroke-width="1.60" stroke-linejoin="round" stroke-linecap="round"/><path d="M628.1 352.0 L642.1 352.0" fill="none" stroke="#d02228" stroke-width="1.60" stroke-linejoin="round" stroke-linecap="round"/><path d="M642.1 352.0 L656.1 351.9" fill="none" stroke="#d02228" stroke-width="1.60" stroke-linejoin="round" stroke-linecap="round"/><path d="M656.1 351.9 L670.1 351.7" fill="none" stroke="#d02228" stroke-width="1.60" stroke-linejoin="round" stroke-linecap="round"/><path d="M670.1 351.7 L684.1 351.5" fill="none" stroke="#d02228" stroke-width="1.60" stroke-linejoin="round" stroke-linecap="round"/><path d="M684.1 351.5 L697.0 351.2" fill="none" stroke="#d02228" stroke-width="1.60" stroke-linejoin="round" stroke-linecap="round"/>
<path d="M418.1 405.8 L421.1 401.9 L424.9 397.2 L429.4 390.5 L432.1 387.3" fill="none" stroke="#16149e" stroke-width="3.86" stroke-linejoin="round" stroke-linecap="round"/><path d="M432.1 387.3 L435.1 384.3 L438.6 381.4 L442.4 378.7 L446.1 376.5" fill="none" stroke="#16149e" stroke-width="3.67" stroke-linejoin="round" stroke-linecap="round"/><path d="M446.1 376.5 L450.4 374.5 L456.4 371.3 L458.1 370.6 L460.1 369.8" fill="none" stroke="#16149e" stroke-width="3.49" stroke-linejoin="round" stroke-linecap="round"/><path d="M460.1 369.8 L465.9 368.2 L474.1 366.3" fill="none" stroke="#16149e" stroke-width="3.31" stroke-linejoin="round" stroke-linecap="round"/><path d="M474.1 366.3 L480.1 365.1 L488.1 363.8" fill="none" stroke="#16149e" stroke-width="3.13" stroke-linejoin="round" stroke-linecap="round"/><path d="M488.1 363.8 L496.1 362.5 L502.1 361.7" fill="none" stroke="#16149e" stroke-width="2.95" stroke-linejoin="round" stroke-linecap="round"/><path d="M502.1 361.7 L507.4 361.2 L516.1 360.6" fill="none" stroke="#16149e" stroke-width="2.76" stroke-linejoin="round" stroke-linecap="round"/><path d="M516.1 360.6 L530.1 359.9" fill="none" stroke="#16149e" stroke-width="2.58" stroke-linejoin="round" stroke-linecap="round"/><path d="M530.1 359.9 L544.1 359.3" fill="none" stroke="#16149e" stroke-width="2.40" stroke-linejoin="round" stroke-linecap="round"/><path d="M544.1 359.3 L558.1 358.7" fill="none" stroke="#16149e" stroke-width="2.22" stroke-linejoin="round" stroke-linecap="round"/><path d="M558.1 358.7 L572.1 358.2" fill="none" stroke="#16149e" stroke-width="2.10" stroke-linejoin="round" stroke-linecap="round"/><path d="M572.1 358.2 L586.1 357.6" fill="none" stroke="#16149e" stroke-width="2.10" stroke-linejoin="round" stroke-linecap="round"/><path d="M586.1 357.6 L600.1 357.1" fill="none" stroke="#16149e" stroke-width="2.10" stroke-linejoin="round" stroke-linecap="round"/><path d="M600.1 357.1 L614.1 356.6" fill="none" stroke="#16149e" stroke-width="2.10" stroke-linejoin="round" stroke-linecap="round"/><path d="M614.1 356.6 L628.1 356.1" fill="none" stroke="#16149e" stroke-width="2.10" stroke-linejoin="round" stroke-linecap="round"/><path d="M628.1 356.1 L641.6 355.5" fill="none" stroke="#16149e" stroke-width="2.10" stroke-linejoin="round" stroke-linecap="round"/><path d="M418.1 405.8 L418.9 400.8 L419.6 397.5 L422.6 387.0 L424.4 381.7 L426.1 377.4 L428.1 373.4 L429.9 370.5 L432.1 367.4" fill="none" stroke="#16149e" stroke-width="3.86" stroke-linejoin="round" stroke-linecap="round"/><path d="M432.1 367.4 L433.6 365.6 L435.1 364.1 L436.4 363.0 L438.4 361.5 L440.4 360.2 L442.1 359.1 L444.1 358.2 L446.1 357.4" fill="none" stroke="#16149e" stroke-width="3.67" stroke-linejoin="round" stroke-linecap="round"/><path d="M446.1 357.4 L449.6 356.2 L452.9 355.3 L455.9 354.8 L460.1 354.2" fill="none" stroke="#16149e" stroke-width="3.49" stroke-linejoin="round" stroke-linecap="round"/><path d="M460.1 354.2 L474.1 353.0" fill="none" stroke="#16149e" stroke-width="3.31" stroke-linejoin="round" stroke-linecap="round"/><path d="M474.1 353.0 L480.9 352.5 L488.1 352.2" fill="none" stroke="#16149e" stroke-width="3.13" stroke-linejoin="round" stroke-linecap="round"/><path d="M488.1 352.2 L502.1 351.8" fill="none" stroke="#16149e" stroke-width="2.95" stroke-linejoin="round" stroke-linecap="round"/><path d="M502.1 351.8 L516.1 351.7" fill="none" stroke="#16149e" stroke-width="2.76" stroke-linejoin="round" stroke-linecap="round"/><path d="M516.1 351.7 L530.1 351.7" fill="none" stroke="#16149e" stroke-width="2.58" stroke-linejoin="round" stroke-linecap="round"/><path d="M530.1 351.7 L544.1 351.6" fill="none" stroke="#16149e" stroke-width="2.40" stroke-linejoin="round" stroke-linecap="round"/><path d="M544.1 351.6 L558.1 351.6" fill="none" stroke="#16149e" stroke-width="2.22" stroke-linejoin="round" stroke-linecap="round"/><path d="M558.1 351.6 L572.1 351.6" fill="none" stroke="#16149e" stroke-width="2.10" stroke-linejoin="round" stroke-linecap="round"/><path d="M572.1 351.6 L586.1 351.6" fill="none" stroke="#16149e" stroke-width="2.10" stroke-linejoin="round" stroke-linecap="round"/><path d="M586.1 351.6 L600.1 351.6" fill="none" stroke="#16149e" stroke-width="2.10" stroke-linejoin="round" stroke-linecap="round"/><path d="M600.1 351.6 L614.1 351.6" fill="none" stroke="#16149e" stroke-width="2.10" stroke-linejoin="round" stroke-linecap="round"/><path d="M614.1 351.6 L628.1 351.6" fill="none" stroke="#16149e" stroke-width="2.10" stroke-linejoin="round" stroke-linecap="round"/><path d="M628.1 351.6 L641.6 351.6" fill="none" stroke="#16149e" stroke-width="2.10" stroke-linejoin="round" stroke-linecap="round"/>
<line x1="641.6" y1="351.6" x2="641.6" y2="355.5" stroke="#16149e" stroke-width="2.4" stroke-linecap="round"/>
</g>
<rect x="414.40" y="331.80" width="282.60" height="267.90" fill="none" stroke="#000" stroke-width="1.9"/>
<line x1="442.00" y1="599.70" x2="442.00" y2="604.50" stroke="#000" stroke-width="1.80"/><line x1="479.25" y1="599.70" x2="479.25" y2="604.50" stroke="#000" stroke-width="1.80"/><line x1="516.50" y1="599.70" x2="516.50" y2="604.50" stroke="#000" stroke-width="1.80"/><line x1="553.75" y1="599.70" x2="553.75" y2="604.50" stroke="#000" stroke-width="1.80"/><line x1="591.00" y1="599.70" x2="591.00" y2="604.50" stroke="#000" stroke-width="1.80"/><line x1="628.25" y1="599.70" x2="628.25" y2="604.50" stroke="#000" stroke-width="1.80"/><line x1="665.50" y1="599.70" x2="665.50" y2="604.50" stroke="#000" stroke-width="1.80"/>
<line x1="423.38" y1="599.70" x2="423.38" y2="602.70" stroke="#000" stroke-width="1.80"/><line x1="460.62" y1="599.70" x2="460.62" y2="602.70" stroke="#000" stroke-width="1.80"/><line x1="497.88" y1="599.70" x2="497.88" y2="602.70" stroke="#000" stroke-width="1.80"/><line x1="535.12" y1="599.70" x2="535.12" y2="602.70" stroke="#000" stroke-width="1.80"/><line x1="572.38" y1="599.70" x2="572.38" y2="602.70" stroke="#000" stroke-width="1.80"/><line x1="609.62" y1="599.70" x2="609.62" y2="602.70" stroke="#000" stroke-width="1.80"/><line x1="646.88" y1="599.70" x2="646.88" y2="602.70" stroke="#000" stroke-width="1.80"/><line x1="684.12" y1="599.70" x2="684.12" y2="602.70" stroke="#000" stroke-width="1.80"/>
<line x1="414.40" y1="357.25" x2="409.60" y2="357.25" stroke="#000" stroke-width="1.80"/><line x1="414.40" y1="417.85" x2="409.60" y2="417.85" stroke="#000" stroke-width="1.80"/><line x1="414.40" y1="478.45" x2="409.60" y2="478.45" stroke="#000" stroke-width="1.80"/><line x1="414.40" y1="539.05" x2="409.60" y2="539.05" stroke="#000" stroke-width="1.80"/><line x1="414.40" y1="599.65" x2="409.60" y2="599.65" stroke="#000" stroke-width="1.80"/>
<line x1="414.40" y1="387.55" x2="411.40" y2="387.55" stroke="#000" stroke-width="1.80"/><line x1="414.40" y1="448.15" x2="411.40" y2="448.15" stroke="#000" stroke-width="1.80"/><line x1="414.40" y1="508.75" x2="411.40" y2="508.75" stroke="#000" stroke-width="1.80"/><line x1="414.40" y1="569.35" x2="411.40" y2="569.35" stroke="#000" stroke-width="1.80"/>
<text transform="translate(442.00 622.20) scale(1.105 1)" font-size="17.30" text-anchor="middle" font-weight="normal" fill="#000" stroke="#000" stroke-width="0.30" font-family="Liberation Sans, Arial, sans-serif">0.2</text>
<text transform="translate(479.25 622.20) scale(1.105 1)" font-size="17.30" text-anchor="middle" font-weight="normal" fill="#000" stroke="#000" stroke-width="0.30" font-family="Liberation Sans, Arial, sans-serif">0.4</text>
<text transform="translate(516.50 622.20) scale(1.105 1)" font-size="17.30" text-anchor="middle" font-weight="normal" fill="#000" stroke="#000" stroke-width="0.30" font-family="Liberation Sans, Arial, sans-serif">0.6</text>
<text transform="translate(553.75 622.20) scale(1.105 1)" font-size="17.30" text-anchor="middle" font-weight="normal" fill="#000" stroke="#000" stroke-width="0.30" font-family="Liberation Sans, Arial, sans-serif">0.8</text>
<text transform="translate(591.00 622.20) scale(1.105 1)" font-size="17.30" text-anchor="middle" font-weight="normal" fill="#000" stroke="#000" stroke-width="0.30" font-family="Liberation Sans, Arial, sans-serif">1.0</text>
<text transform="translate(628.25 622.20) scale(1.105 1)" font-size="17.30" text-anchor="middle" font-weight="normal" fill="#000" stroke="#000" stroke-width="0.30" font-family="Liberation Sans, Arial, sans-serif">1.2</text>
<text transform="translate(665.50 622.20) scale(1.105 1)" font-size="17.30" text-anchor="middle" font-weight="normal" fill="#000" stroke="#000" stroke-width="0.30" font-family="Liberation Sans, Arial, sans-serif">1.4</text>
<text transform="translate(406.60 363.45) scale(1.165 1)" font-size="17.30" text-anchor="end" font-weight="normal" fill="#000" stroke="#000" stroke-width="0.30" font-family="Liberation Sans, Arial, sans-serif">0</text>
<text transform="translate(406.60 424.05) scale(1.165 1)" font-size="17.30" text-anchor="end" font-weight="normal" fill="#000" stroke="#000" stroke-width="0.30" font-family="Liberation Sans, Arial, sans-serif">-10</text>
<text transform="translate(406.60 484.65) scale(1.165 1)" font-size="17.30" text-anchor="end" font-weight="normal" fill="#000" stroke="#000" stroke-width="0.30" font-family="Liberation Sans, Arial, sans-serif">-20</text>
<text transform="translate(406.60 545.25) scale(1.165 1)" font-size="17.30" text-anchor="end" font-weight="normal" fill="#000" stroke="#000" stroke-width="0.30" font-family="Liberation Sans, Arial, sans-serif">-30</text>
<text transform="translate(406.60 605.85) scale(1.165 1)" font-size="17.30" text-anchor="end" font-weight="normal" fill="#000" stroke="#000" stroke-width="0.30" font-family="Liberation Sans, Arial, sans-serif">-40</text>
<text transform="translate(0 645.60) scale(1.140 1)" font-size="18.20" text-anchor="start" stroke="#000" stroke-width="0.3" font-family="Liberation Sans, Arial, sans-serif"><tspan x="415.96">E (V</tspan><tspan x="457.98" font-style="italic">vs</tspan><tspan x="480.44">Na</tspan><tspan x="502.54" dy="-11.3" font-size="11">+</tspan><tspan x="509.56" dy="11.3">/</tspan><tspan x="515.70">Na)</tspan></text>
<text transform="translate(370.70 457.20) rotate(-90) scale(1.138 1)" font-size="18.81" text-anchor="middle" stroke="#000" stroke-width="0.3" font-family="Liberation Sans, Arial, sans-serif">Current (μA)</text>
<text transform="translate(418.80 350.50) scale(1.000 1)" font-size="23.00" text-anchor="start" font-weight="bold" fill="#000" stroke="#000" stroke-width="0.20" font-family="Liberation Sans, Arial, sans-serif">e</text>
</g>
</g>
</svg></body></html>
